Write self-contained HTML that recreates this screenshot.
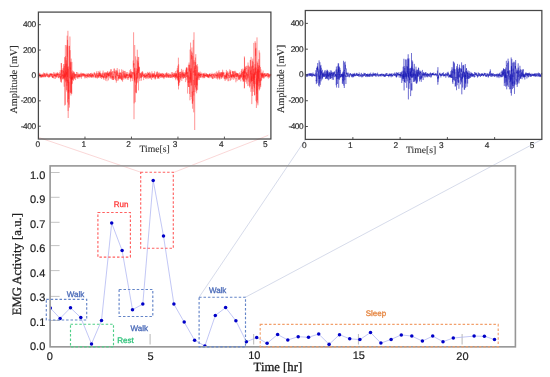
<!DOCTYPE html>
<html><head><meta charset="utf-8"><style>
html,body{margin:0;padding:0;background:#fff;}
svg{display:block;text-rendering:geometricPrecision;}
.tk{font-family:"Liberation Sans",Arial,sans-serif;font-size:8.3px;fill:#262626;letter-spacing:-0.45px;stroke:#262626;stroke-width:0.16px;}
.tk2{font-family:"Liberation Sans",Arial,sans-serif;font-size:11px;fill:#1e1e1e;stroke:#1e1e1e;stroke-width:0.2px;}
.sr{font-family:"Liberation Serif","Times New Roman",serif;fill:#303030;stroke:#303030;stroke-width:0.12px;}
.sr2{font-family:"Liberation Serif","Times New Roman",serif;fill:#1c1c1c;stroke:#1c1c1c;stroke-width:0.3px;}
.lb{font-family:"Liberation Sans",Arial,sans-serif;font-size:8px;stroke-width:0.3px;}
</style></head><body>
<svg width="550" height="377" viewBox="0 0 550 377">
<rect width="550" height="377" fill="#fff"/>
<g stroke-width="0.6" fill="none">
<line x1="39.1" y1="137.6" x2="140.7" y2="172.2" stroke="#f7bcbc"/>
<line x1="268.3" y1="135.3" x2="173.3" y2="172.6" stroke="#f7bcbc"/>
<line x1="305.6" y1="139.4" x2="199.1" y2="297.2" stroke="#bac2dc"/>
<line x1="541.9" y1="139.4" x2="245.5" y2="297.2" stroke="#bac2dc"/>
</g>
<polyline points="38.5,74.6 38.5,76.8 38.6,76.3 38.6,76.1 38.7,76.3 38.7,76.8 38.8,77.6 38.8,76.8 38.9,75 38.9,72.6 39,74 39,75.7 39.1,76.2 39.1,76.7 39.2,76.9 39.2,76.1 39.2,75.3 39.3,75.1 39.3,74.7 39.4,75.2 39.4,74.8 39.5,73.8 39.5,74.5 39.6,75.7 39.6,75.5 39.7,74.2 39.7,73.5 39.8,74.9 39.8,75.3 39.8,75 39.9,76 39.9,75.7 40,74.5 40,74.5 40.1,74.9 40.1,75.9 40.2,77.4 40.2,76.2 40.3,76.7 40.3,77.3 40.4,75.7 40.4,75 40.5,76 40.5,76.6 40.5,75.9 40.6,74.9 40.6,73.8 40.7,74 40.7,74.4 40.8,74.4 40.8,75.5 40.9,76.1 40.9,75.1 41,74.8 41,75.7 41.1,76.3 41.1,76.6 41.1,77.4 41.2,75.7 41.2,75.5 41.3,76.8 41.3,76.5 41.4,76.2 41.4,76.1 41.5,77.5 41.5,76.8 41.6,74.8 41.6,75 41.7,77.2 41.7,76.7 41.8,75.6 41.8,75.3 41.8,74.7 41.9,75.8 41.9,76 42,75.7 42,74.6 42.1,75.1 42.1,76.4 42.2,76.5 42.2,74.3 42.3,73.7 42.3,73.8 42.4,73.9 42.4,74.9 42.5,76.2 42.5,76.8 42.5,76 42.6,75.2 42.6,76.5 42.7,76.7 42.7,76 42.8,75.2 42.8,75.4 42.9,77.1 42.9,77.6 43,75.7 43,74 43.1,74.1 43.1,75 43.1,75.5 43.2,75.4 43.2,75.2 43.3,75.1 43.3,75.8 43.4,75.7 43.4,75.3 43.5,74.8 43.5,73.8 43.6,72.5 43.6,72.5 43.7,74.2 43.7,76.8 43.8,76.8 43.8,76.1 43.8,76.2 43.9,76.9 43.9,74.9 44,74.6 44,76.6 44.1,77.2 44.1,76.6 44.2,75.4 44.2,74 44.3,73.3 44.3,74.4 44.4,74.6 44.4,74.2 44.4,73.3 44.5,73.4 44.5,74.2 44.6,76 44.6,76.3 44.7,75.7 44.7,74.1 44.8,74.4 44.8,75.6 44.9,75.8 44.9,75.5 45,76.3 45,76.3 45.1,74.4 45.1,73.1 45.1,74.9 45.2,76.5 45.2,77.4 45.3,77 45.3,75.2 45.4,74.5 45.4,74.9 45.5,75 45.5,75.2 45.6,75.9 45.6,77 45.7,76.5 45.7,76 45.8,76.4 45.8,76.6 45.8,76.6 45.9,75.8 45.9,75 46,75.5 46,75.4 46.1,74.4 46.1,73.8 46.2,74.4 46.2,76.3 46.3,75.7 46.3,75.5 46.4,75.1 46.4,74.1 46.4,73.6 46.5,73.8 46.5,74.1 46.6,73.9 46.6,75 46.7,75.3 46.7,74.9 46.8,74.6 46.8,73.1 46.9,72.6 46.9,72.9 47,74.6 47,75.6 47.1,75.2 47.1,74.9 47.1,75.5 47.2,75.3 47.2,74.6 47.3,74.1 47.3,74.9 47.4,75 47.4,76.1 47.5,77 47.5,77.1 47.6,76.8 47.6,75.4 47.7,74.3 47.7,74.5 47.7,74 47.8,73.5 47.8,74.4 47.9,75.3 47.9,76.3 48,76.9 48,76.2 48.1,76.6 48.1,75.5 48.2,74.8 48.2,74.4 48.3,75.4 48.3,76.1 48.4,75.7 48.4,75.9 48.4,75.8 48.5,75.6 48.5,75.7 48.6,76.1 48.6,76.5 48.7,77 48.7,77.8 48.8,77 48.8,76.2 48.9,74.4 48.9,74.6 49,76.7 49,76.2 49.1,76 49.1,76.3 49.1,75.7 49.2,76.5 49.2,77.5 49.3,76.6 49.3,75.8 49.4,75.9 49.4,76.3 49.5,75.1 49.5,75 49.6,76.5 49.6,76.6 49.7,76.1 49.7,75.3 49.7,73.9 49.8,75 49.8,76.6 49.9,76.6 49.9,74.9 50,73.3 50,74.5 50.1,75.1 50.1,74.8 50.2,74.2 50.2,73.4 50.3,74.6 50.3,74.8 50.4,74.7 50.4,75.2 50.4,75.5 50.5,74.3 50.5,74.8 50.6,75.9 50.6,76.7 50.7,76.3 50.7,74.8 50.8,73.8 50.8,73.6 50.9,73.5 50.9,74.1 51,74.6 51,74.3 51,74.5 51.1,74.8 51.1,74.1 51.2,73.7 51.2,74.7 51.3,75.2 51.3,74 51.4,73.3 51.4,74.8 51.5,75.6 51.5,75.2 51.6,75.1 51.6,76.5 51.7,75.4 51.7,74.5 51.7,75 51.8,74 51.8,74.5 51.9,75.7 51.9,76.2 52,77.1 52,75.9 52.1,74.2 52.1,74.7 52.2,73.9 52.2,74.2 52.3,74.5 52.3,76 52.4,78 52.4,77.1 52.4,76.2 52.5,77.2 52.5,77.3 52.6,76.2 52.6,76.9 52.7,77.8 52.7,76.6 52.8,75.1 52.8,75 52.9,73.9 52.9,73.4 53,75.2 53,77.2 53,77.4 53.1,75.7 53.1,74.4 53.2,74.5 53.2,74.9 53.3,75.5 53.3,75.6 53.4,76.1 53.4,76.7 53.5,77.8 53.5,78.1 53.6,77.4 53.6,77.4 53.7,76.7 53.7,75.2 53.7,73.8 53.8,72 53.8,73.3 53.9,75.1 53.9,74.7 54,75 54,75.5 54.1,75.1 54.1,77.3 54.2,78.8 54.2,76.4 54.3,75.2 54.3,74.5 54.3,76 54.4,76.3 54.4,74.9 54.5,75.7 54.5,74.9 54.6,73.7 54.6,74.6 54.7,75.3 54.7,75 54.8,74.8 54.8,75.6 54.9,74.7 54.9,73.3 55,72.7 55,75 55,76.2 55.1,75.3 55.1,75.4 55.2,75.2 55.2,74.6 55.3,74.4 55.3,75.8 55.4,77.3 55.4,78.9 55.5,77.1 55.5,74.7 55.6,75.9 55.6,77.2 55.7,77 55.7,75.4 55.7,75.6 55.8,76.4 55.8,75.1 55.9,74.4 55.9,74.6 56,74.8 56,73.4 56.1,74.1 56.1,75.6 56.2,76.2 56.2,75.6 56.3,74.6 56.3,74.7 56.3,73.8 56.4,73.3 56.4,72.9 56.5,73.8 56.5,76.1 56.6,77.6 56.6,75.7 56.7,74.3 56.7,74.5 56.8,74.9 56.8,76 56.9,76.7 56.9,76.1 57,74.2 57,74.9 57,76.7 57.1,77.5 57.1,75.6 57.2,73.5 57.2,74.3 57.3,75.1 57.3,73.1 57.4,72.1 57.4,72.7 57.5,73 57.5,73 57.6,73.5 57.6,74.4 57.6,75 57.7,73.6 57.7,73.1 57.8,73.7 57.8,76.5 57.9,75 57.9,74 58,74.9 58,74.5 58.1,73.8 58.1,74.5 58.2,75.8 58.2,75.2 58.3,73.3 58.3,72.9 58.3,74.4 58.4,75 58.4,74.5 58.5,74.6 58.5,77.1 58.6,78 58.6,77 58.7,77.4 58.7,76.9 58.8,75.5 58.8,75.4 58.9,76.3 58.9,76.1 59,77.3 59,76.9 59,78.3 59.1,78 59.1,75.8 59.2,76.3 59.2,77.1 59.3,76.4 59.3,75.1 59.4,75.2 59.4,74.8 59.5,74.4 59.5,76.2 59.6,76.9 59.6,75.7 59.6,73.3 59.7,72.2 59.7,72.7 59.8,74.6 59.8,75 59.9,74.5 59.9,74.8 60,73.9 60,74.2 60.1,76 60.1,76 60.2,74.3 60.2,70.7 60.3,70.2 60.3,73.6 60.3,77.1 60.4,79.4 60.4,77.1 60.5,76.4 60.5,77.1 60.6,76.4 60.6,78.6 60.7,77.7 60.7,77 60.8,77.6 60.8,73.2 60.9,73.1 60.9,80.8 60.9,82.1 61,76.1 61,77.1 61.1,81.5 61.1,79.7 61.2,77 61.2,74.5 61.3,63 61.3,67.4 61.4,82.7 61.4,63.2 61.5,66.4 61.5,66.1 61.6,66.4 61.6,72 61.6,77.2 61.7,73.9 61.7,71.4 61.8,69.7 61.8,72 61.9,72.9 61.9,71.6 62,70.1 62,73.2 62.1,75.4 62.1,75.4 62.2,76.1 62.2,75.5 62.3,74.8 62.3,72.4 62.3,70.3 62.4,74.1 62.4,75.8 62.5,75.3 62.5,75.4 62.6,79.2 62.6,79.3 62.7,76 62.7,73.9 62.8,75.7 62.8,78.6 62.9,78.4 62.9,72.5 62.9,68.3 63,70.9 63,73.1 63.1,75 63.1,79.4 63.2,79.3 63.2,77 63.3,75 63.3,77.6 63.4,78.7 63.4,68.3 63.5,64.1 63.5,71.2 63.6,72.5 63.6,71 63.6,73.5 63.7,77.9 63.7,70.2 63.8,70.2 63.8,67.7 63.9,72.3 63.9,77.8 64,75 64,72.4 64.1,80.4 64.1,83.4 64.2,86.7 64.2,86.2 64.2,69.2 64.3,65.9 64.3,68.7 64.4,69 64.4,78.8 64.5,72.1 64.5,57.2 64.6,69.9 64.6,105 64.7,105.5 64.7,96.7 64.8,73.4 64.8,76.5 64.9,76.9 64.9,74.5 64.9,80.4 65,73.2 65,64 65.1,64.9 65.1,71.2 65.2,77.4 65.2,74.1 65.3,70 65.3,50.1 65.4,45 65.4,81.3 65.5,104.8 65.5,89.6 65.6,68.4 65.6,56.1 65.6,61.6 65.7,81.9 65.7,82.2 65.8,70.5 65.8,76.1 65.9,68.5 65.9,68.1 66,62.5 66,58 66.1,57.6 66.1,66.1 66.2,80.9 66.2,76.7 66.2,71.7 66.3,64.6 66.3,60.3 66.4,76.1 66.4,89.5 66.5,90.1 66.5,80 66.6,72.2 66.6,74.7 66.7,63.6 66.7,67.6 66.8,83.5 66.8,91.6 66.9,45 66.9,75.6 66.9,85.8 67,60.5 67,46.4 67.1,56.8 67.1,51.6 67.2,35.7 67.2,50.8 67.3,78.5 67.3,81.2 67.4,80.2 67.4,91.6 67.5,102.4 67.5,83.3 67.5,39.9 67.6,77 67.6,71.7 67.7,67.2 67.7,78.5 67.8,82.9 67.8,65.4 67.9,56 67.9,30.8 68,57.8 68,66.6 68.1,71.5 68.1,111 68.2,71.6 68.2,69.1 68.2,118 68.3,79.7 68.3,93.1 68.4,86.7 68.4,66.4 68.5,67.4 68.5,75.6 68.6,78.9 68.6,81.1 68.7,97.5 68.7,99 68.8,90 68.8,91.7 68.9,89.8 68.9,81.8 68.9,104.6 69,68.9 69,49.1 69.1,45.9 69.1,53.5 69.2,71.8 69.2,90 69.3,100 69.3,101 69.4,107.6 69.4,89.8 69.5,60.4 69.5,45.9 69.5,58.2 69.6,77.4 69.6,77.7 69.7,78.3 69.7,69.6 69.8,66.2 69.8,49.8 69.9,36.5 69.9,36.6 70,39.2 70,60.7 70.1,68.8 70.1,51.5 70.2,50.2 70.2,72.2 70.2,84.7 70.3,93.2 70.3,80.9 70.4,67.5 70.4,75.6 70.5,89.6 70.5,92.6 70.6,74.4 70.6,61.7 70.7,63.5 70.7,74.8 70.8,79.1 70.8,62.5 70.9,68.2 70.9,73.8 70.9,79 71,95.5 71,86.8 71.1,75.8 71.1,65.7 71.2,58.6 71.2,72.9 71.3,92.4 71.3,85.8 71.4,75.6 71.4,79.6 71.5,93.6 71.5,93.6 71.5,76.5 71.6,71.6 71.6,80.3 71.7,84.3 71.7,78.4 71.8,93.8 71.8,80.8 71.9,61.9 71.9,69.1 72,77.2 72,79.2 72.1,73.7 72.1,79.6 72.2,77.2 72.2,77.1 72.2,79.5 72.3,77.1 72.3,83.7 72.4,83.1 72.4,78.7 72.5,76.6 72.5,71.8 72.6,70.5 72.6,76 72.7,79.7 72.7,79.6 72.8,76.6 72.8,73.1 72.8,74.1 72.9,74.4 72.9,76.5 73,77.4 73,75.5 73.1,77.6 73.1,74.8 73.2,72.4 73.2,77 73.3,79.2 73.3,81.1 73.4,80.9 73.4,80.9 73.5,78.9 73.5,77.1 73.5,73.9 73.6,71.2 73.6,72.4 73.7,73.6 73.7,75.2 73.8,77 73.8,79.2 73.9,79.8 73.9,75.5 74,71.9 74,73.4 74.1,74.5 74.1,73.2 74.2,75.5 74.2,77.9 74.2,79 74.3,78.2 74.3,75.2 74.4,72.5 74.4,75.1 74.5,77.7 74.5,77.6 74.6,77.6 74.6,78.3 74.7,76 74.7,74.1 74.8,74.1 74.8,75.3 74.8,78.2 74.9,78 74.9,74.1 75,74 75,76.8 75.1,76.1 75.1,75 75.2,74.5 75.2,75.1 75.3,75.9 75.3,75.4 75.4,75.3 75.4,76.9 75.5,80.1 75.5,80.1 75.5,79.9 75.6,78.4 75.6,75.7 75.7,74.2 75.7,74.8 75.8,75.6 75.8,74.8 75.9,74.2 75.9,75.1 76,74.1 76,73.6 76.1,73.7 76.1,73.6 76.1,75 76.2,75.1 76.2,76.7 76.3,77.7 76.3,77.2 76.4,76.1 76.4,76.6 76.5,76.6 76.5,76.2 76.6,73.5 76.6,72.1 76.7,72.9 76.7,72.5 76.8,72.3 76.8,72.1 76.8,74.8 76.9,76.4 76.9,74.6 77,75.5 77,77.3 77.1,77.9 77.1,78.2 77.2,77.2 77.2,76.1 77.3,73.9 77.3,74.8 77.4,78 77.4,78.7 77.5,78.3 77.5,78.4 77.5,76.8 77.6,76.1 77.6,76.7 77.7,76.2 77.7,74.3 77.8,72.6 77.8,72.7 77.9,74 77.9,74.7 78,75.7 78,75.8 78.1,76.1 78.1,75.8 78.1,77.1 78.2,77.2 78.2,75.8 78.3,75.7 78.3,77.1 78.4,76.8 78.4,75.6 78.5,75.6 78.5,76.3 78.6,75.8 78.6,75 78.7,73.7 78.7,74.9 78.8,77.8 78.8,78.6 78.8,75.9 78.9,74 78.9,74.2 79,74.6 79,76.2 79.1,76.8 79.1,75.2 79.2,74.7 79.2,75.3 79.3,76.6 79.3,76.2 79.4,75.7 79.4,75.2 79.4,76.1 79.5,76.6 79.5,75.8 79.6,74.4 79.6,75.2 79.7,76.8 79.7,77.4 79.8,76.5 79.8,75.4 79.9,77.1 79.9,76.8 80,74.7 80,73.9 80.1,74.6 80.1,74.2 80.1,73.8 80.2,73.9 80.2,74.1 80.3,73.4 80.3,73.7 80.4,74.1 80.4,75.4 80.5,75.6 80.5,77 80.6,77.3 80.6,76 80.7,75.9 80.7,75.7 80.8,75.6 80.8,74.2 80.8,75.2 80.9,76.4 80.9,75.3 81,74.8 81,75.4 81.1,74.1 81.1,72.6 81.2,73.5 81.2,75.1 81.3,75.7 81.3,75.9 81.4,78.1 81.4,78.7 81.4,77.9 81.5,76.1 81.5,74.1 81.6,74.9 81.6,76.7 81.7,76.8 81.7,75.8 81.8,76.3 81.8,76.3 81.9,75.7 81.9,75.3 82,75.1 82,74.5 82.1,73.2 82.1,73.6 82.1,74.9 82.2,73.3 82.2,73.5 82.3,74.2 82.3,75.3 82.4,75.2 82.4,74.9 82.5,74.7 82.5,74.1 82.6,74.7 82.6,76 82.7,75.5 82.7,74.4 82.7,74.5 82.8,75.4 82.8,75.8 82.9,76.2 82.9,77 83,76.4 83,74.6 83.1,75 83.1,75.6 83.2,75.3 83.2,73.6 83.3,73.1 83.3,74.5 83.4,75.1 83.4,75 83.4,73.5 83.5,74 83.5,75.1 83.6,74.2 83.6,74.2 83.7,74.6 83.7,75.1 83.8,76 83.8,75.8 83.9,75 83.9,75.4 84,75.3 84,73.9 84.1,74.9 84.1,76.1 84.1,75.9 84.2,74.5 84.2,73.9 84.3,74.3 84.3,75 84.4,76.6 84.4,76.5 84.5,76 84.5,75.4 84.6,75.6 84.6,75.7 84.7,73.5 84.7,74.7 84.7,74.8 84.8,74 84.8,74.1 84.9,76 84.9,78.5 85,77.4 85,75.7 85.1,76.5 85.1,77.7 85.2,77.6 85.2,75.1 85.3,74.8 85.3,76 85.4,76 85.4,76.1 85.4,76.6 85.5,76 85.5,75 85.6,74.2 85.6,73.9 85.7,75 85.7,75.6 85.8,75.5 85.8,76.4 85.9,76.4 85.9,75 86,75.2 86,75.2 86,75.2 86.1,75.9 86.1,75.1 86.2,74.8 86.2,75.1 86.3,75.5 86.3,77 86.4,78 86.4,77.1 86.5,76.1 86.5,74.9 86.6,75 86.6,75.7 86.7,74.9 86.7,73.6 86.7,73.5 86.8,74.3 86.8,74.9 86.9,75.5 86.9,75.4 87,75 87,75.2 87.1,75.7 87.1,77.2 87.2,78.3 87.2,78 87.3,76 87.3,73.9 87.4,74.2 87.4,76.5 87.4,77 87.5,75.2 87.5,75.2 87.6,76 87.6,74.8 87.7,74.2 87.7,73.8 87.8,74.1 87.8,74.2 87.9,75.1 87.9,76.3 88,76.3 88,75.9 88,75.4 88.1,76.7 88.1,77 88.2,74.9 88.2,73.3 88.3,73 88.3,74.3 88.4,76.7 88.4,77 88.5,76.5 88.5,76.7 88.6,77.6 88.6,76.3 88.7,75.7 88.7,76.1 88.7,75.2 88.8,74.2 88.8,74.3 88.9,73.8 88.9,73.7 89,74.3 89,74.9 89.1,75.1 89.1,74.6 89.2,75.6 89.2,76 89.3,75.4 89.3,75.6 89.3,74.8 89.4,74.1 89.4,74.7 89.5,74.8 89.5,74.2 89.6,75 89.6,77.1 89.7,76.8 89.7,74.7 89.8,75.5 89.8,77.9 89.9,77.8 89.9,76.6 90,76.2 90,75.3 90,75 90.1,75.4 90.1,76 90.2,74.4 90.2,73.5 90.3,74.6 90.3,73.8 90.4,73.5 90.4,74.3 90.5,75.7 90.5,77 90.6,76.5 90.6,74.6 90.7,73.4 90.7,73.1 90.7,73.4 90.8,74.2 90.8,75.9 90.9,76.7 90.9,75.5 91,74.9 91,75.8 91.1,77.3 91.1,77.4 91.2,77.3 91.2,76.5 91.3,76.6 91.3,75.9 91.3,75.1 91.4,74.5 91.4,74.5 91.5,76.9 91.5,77.7 91.6,74.7 91.6,72.8 91.7,72.9 91.7,74 91.8,74.6 91.8,75.6 91.9,77 91.9,76.4 92,75.4 92,74.9 92,74.4 92.1,76.3 92.1,76 92.2,74.8 92.2,76.2 92.3,77.6 92.3,77.8 92.4,76.1 92.4,73.9 92.5,74 92.5,74.7 92.6,75.2 92.6,74.7 92.6,75.3 92.7,76.5 92.7,76.2 92.8,74.8 92.8,74 92.9,74.5 92.9,73.8 93,73.3 93,75.8 93.1,76.6 93.1,74.7 93.2,74.5 93.2,75.1 93.3,75.2 93.3,75.4 93.3,75.1 93.4,75.1 93.4,75.3 93.5,76.7 93.5,76.9 93.6,75.9 93.6,75.5 93.7,74.8 93.7,75.3 93.8,75.9 93.8,75.8 93.9,76.8 93.9,78.1 94,78 94,77.3 94,76.3 94.1,75 94.1,73.8 94.2,73.1 94.2,72.2 94.3,72.8 94.3,73.8 94.4,72.7 94.4,73.2 94.5,74.9 94.5,74.5 94.6,73.7 94.6,73.8 94.6,73.6 94.7,73.9 94.7,74.3 94.8,75.1 94.8,75.2 94.9,75.3 94.9,75.6 95,76.8 95,75.1 95.1,73.3 95.1,73.8 95.2,74.7 95.2,75.2 95.3,76.6 95.3,77.1 95.3,76.4 95.4,75.3 95.4,74.7 95.5,75.4 95.5,75.5 95.6,77.3 95.6,77.2 95.7,75.3 95.7,74.4 95.8,76.7 95.8,78.2 95.9,76.2 95.9,76 95.9,77.4 96,77.8 96,76.9 96.1,75.4 96.1,75.2 96.2,75.5 96.2,73.2 96.3,74.2 96.3,75.3 96.4,74.4 96.4,73.3 96.5,71.4 96.5,72.6 96.6,75.3 96.6,76.4 96.6,76.5 96.7,75.7 96.7,75 96.8,74.8 96.8,73.5 96.9,74.5 96.9,75 97,75.4 97,78.1 97.1,77.5 97.1,75.2 97.2,75 97.2,75.1 97.3,75.2 97.3,76.1 97.3,77 97.4,78.6 97.4,78.2 97.5,75.5 97.5,76.4 97.6,75.9 97.6,73.1 97.7,73.3 97.7,75.7 97.8,76.5 97.8,76.5 97.9,76.5 97.9,75.1 97.9,74.7 98,74.4 98,73.5 98.1,72.3 98.1,71.1 98.2,72.8 98.2,76.2 98.3,75.9 98.3,77.5 98.4,77.8 98.4,75.8 98.5,76.2 98.5,75.6 98.6,74.5 98.6,76.2 98.6,76.8 98.7,74.6 98.7,73 98.8,74.8 98.8,77.8 98.9,77.4 98.9,74.7 99,71.7 99,71.8 99.1,72.3 99.1,72.9 99.2,74.5 99.2,74.4 99.2,74.9 99.3,76.5 99.3,75.7 99.4,75.2 99.4,76 99.5,74.1 99.5,72.8 99.6,73.6 99.6,75.6 99.7,74.5 99.7,72.3 99.8,73.5 99.8,75.6 99.9,74.4 99.9,72.9 99.9,73.9 100,72.7 100,70.7 100.1,73.5 100.1,76.2 100.2,77.5 100.2,76.1 100.3,73.6 100.3,75.5 100.4,78.1 100.4,77.8 100.5,75.6 100.5,74.6 100.6,75.5 100.6,75 100.6,75.4 100.7,74.6 100.7,73.7 100.8,74.2 100.8,75.7 100.9,75.7 100.9,75.7 101,77.1 101,75.6 101.1,73.6 101.1,73.1 101.2,74.7 101.2,75.6 101.2,75.9 101.3,76.8 101.3,76 101.4,74.8 101.4,75.5 101.5,77.5 101.5,78.6 101.6,79 101.6,76.2 101.7,75.8 101.7,76.3 101.8,77.4 101.8,76.1 101.9,74.1 101.9,74.4 101.9,76.4 102,75.2 102,75.8 102.1,76.6 102.1,75.6 102.2,76 102.2,76.9 102.3,76.9 102.3,75.7 102.4,75.5 102.4,76.7 102.5,77.9 102.5,76.9 102.5,74.2 102.6,72.7 102.6,73.2 102.7,72.9 102.7,75.2 102.8,77 102.8,76.1 102.9,76.5 102.9,74.6 103,73.5 103,75 103.1,73.7 103.1,70.6 103.2,72.6 103.2,73.9 103.2,73.8 103.3,75 103.3,75.6 103.4,76.9 103.4,78.7 103.5,75.9 103.5,77.5 103.6,78 103.6,75.6 103.7,76.2 103.7,77.8 103.8,77.3 103.8,78.4 103.9,79.3 103.9,79.9 103.9,78.2 104,75.5 104,74.6 104.1,73.9 104.1,73.5 104.2,75.4 104.2,76.9 104.3,75.2 104.3,72.5 104.4,73.7 104.4,74.8 104.5,75.2 104.5,74.7 104.5,74.5 104.6,75.3 104.6,76.6 104.7,78 104.7,77.5 104.8,74.8 104.8,72.9 104.9,73 104.9,75.2 105,76.4 105,74.6 105.1,75.1 105.1,77.1 105.2,74.5 105.2,72.3 105.2,72.7 105.3,77.3 105.3,78.5 105.4,77 105.4,79.3 105.5,79.7 105.5,79.7 105.6,80.5 105.6,80.6 105.7,76.9 105.7,73.5 105.8,73.3 105.8,74.3 105.8,74.4 105.9,72.3 105.9,72.3 106,74.1 106,77.4 106.1,77.2 106.1,77.3 106.2,75.7 106.2,75.9 106.3,77.3 106.3,75 106.4,72.5 106.4,72.9 106.5,74.6 106.5,77.4 106.5,78.7 106.6,78.2 106.6,75.1 106.7,72.6 106.7,73.5 106.8,76 106.8,77.3 106.9,76 106.9,77.6 107,81.2 107,81.2 107.1,78.7 107.1,76.2 107.2,73 107.2,74.9 107.2,77.7 107.3,76 107.3,73.5 107.4,75.2 107.4,74.1 107.5,72.4 107.5,71.4 107.6,73.2 107.6,75.1 107.7,74.5 107.7,73.9 107.8,73.2 107.8,72.8 107.8,71.4 107.9,73.4 107.9,75 108,76.2 108,75.7 108.1,75.1 108.1,74.2 108.2,74 108.2,76.4 108.3,76.6 108.3,74.3 108.4,75.5 108.4,75.8 108.5,73.2 108.5,75.3 108.5,80.3 108.6,77.8 108.6,73.6 108.7,73.3 108.7,74.2 108.8,73.3 108.8,75.8 108.9,76.3 108.9,75.3 109,74.4 109,72.7 109.1,72.4 109.1,73.1 109.1,73.1 109.2,75.5 109.2,74.7 109.3,71.8 109.3,72.6 109.4,73.3 109.4,75.5 109.5,76.3 109.5,75.7 109.6,75.4 109.6,75.8 109.7,74.9 109.7,72.8 109.8,72 109.8,73.2 109.8,73 109.9,74 109.9,78 110,77.9 110,72.3 110.1,71.1 110.1,73.5 110.2,75.4 110.2,78.2 110.3,78.9 110.3,77.4 110.4,77.4 110.4,75.4 110.5,75.5 110.5,73.2 110.5,69.3 110.6,69.6 110.6,73 110.7,74.2 110.7,77 110.8,77 110.8,73.9 110.9,72.6 110.9,74.6 111,74.6 111,75.9 111.1,77.8 111.1,75.4 111.1,72.5 111.2,73.5 111.2,73.5 111.3,73.7 111.3,74.7 111.4,71.8 111.4,69.4 111.5,69.2 111.5,71.4 111.6,75.5 111.6,77.8 111.7,78.6 111.7,78.8 111.8,76.9 111.8,72.7 111.8,71.9 111.9,74.5 111.9,75.4 112,77.7 112,78.3 112.1,79.5 112.1,79.8 112.2,76.9 112.2,75.8 112.3,76.8 112.3,77.9 112.4,78.2 112.4,77.2 112.4,76.8 112.5,76.6 112.5,77.5 112.6,75.4 112.6,72.9 112.7,71.2 112.7,71.7 112.8,74.7 112.8,78.4 112.9,79.9 112.9,75.7 113,71.1 113,73 113.1,79.9 113.1,79.9 113.1,78.2 113.2,77.9 113.2,76.1 113.3,75.8 113.3,76.7 113.4,77.7 113.4,80 113.5,80 113.5,77.8 113.6,76.1 113.6,78.3 113.7,76.7 113.7,74.1 113.8,74 113.8,74.2 113.8,75.5 113.9,73.9 113.9,70.7 114,68.7 114,70 114.1,71.3 114.1,73.6 114.2,73.4 114.2,71.1 114.3,71 114.3,70.6 114.4,69.9 114.4,68.5 114.4,68.5 114.5,72.7 114.5,71.4 114.6,72.1 114.6,73.7 114.7,74.5 114.7,75 114.8,78 114.8,78.8 114.9,77.5 114.9,74.5 115,72.2 115,72.4 115.1,74.4 115.1,78 115.1,79.5 115.2,76.1 115.2,74.2 115.3,72.9 115.3,71.9 115.4,74.6 115.4,78.2 115.5,80.3 115.5,76.6 115.6,75.8 115.6,76.7 115.7,76.4 115.7,77.8 115.7,75.5 115.8,70.6 115.8,70.5 115.9,71.3 115.9,71.8 116,72.5 116,71.7 116.1,69.8 116.1,72.3 116.2,73.7 116.2,75.7 116.3,79.1 116.3,82.7 116.4,80.6 116.4,72.5 116.4,70.9 116.5,74.6 116.5,75.2 116.6,74.9 116.6,75.2 116.7,73.4 116.7,77.1 116.8,80.8 116.8,81.1 116.9,74.6 116.9,72.3 117,72.4 117,75.6 117.1,75.4 117.1,74.5 117.1,72.3 117.2,68.1 117.2,68 117.3,69.8 117.3,73.5 117.4,72 117.4,70.6 117.5,71.9 117.5,72.9 117.6,74.5 117.6,76.5 117.7,74.1 117.7,72.5 117.7,75.8 117.8,75.4 117.8,74.9 117.9,78.1 117.9,79 118,80.5 118,80.3 118.1,80.6 118.1,79.7 118.2,78 118.2,77.2 118.3,78.7 118.3,79.7 118.4,74.7 118.4,75.9 118.4,78.8 118.5,77.9 118.5,76.6 118.6,78.1 118.6,77.9 118.7,76.6 118.7,75.5 118.8,76.2 118.8,74.8 118.9,74.2 118.9,74 119,72.7 119,75.3 119,77.8 119.1,75.9 119.1,75 119.2,74.9 119.2,72.4 119.3,69.3 119.3,71.9 119.4,74 119.4,74.1 119.5,72.7 119.5,75.2 119.6,78.5 119.6,78.6 119.7,75 119.7,75 119.7,79.1 119.8,78 119.8,73.9 119.9,73.9 119.9,77.7 120,76.9 120,74.7 120.1,76.4 120.1,77.7 120.2,78.6 120.2,79.1 120.3,76.6 120.3,76.3 120.4,78.2 120.4,75.5 120.4,72.6 120.5,72.8 120.5,73.4 120.6,74.3 120.6,73.4 120.7,73.9 120.7,72.4 120.8,75.4 120.8,78.4 120.9,78.8 120.9,78 121,77.9 121,77.9 121,76.2 121.1,73.5 121.1,73 121.2,74.1 121.2,74.1 121.3,77.6 121.3,79.8 121.4,78.7 121.4,77.1 121.5,79.7 121.5,78.6 121.6,72.3 121.6,69.3 121.7,72.2 121.7,77.1 121.7,76 121.8,73.8 121.8,76.1 121.9,79.3 121.9,79.6 122,80.7 122,77.7 122.1,71.7 122.1,73.6 122.2,79.2 122.2,79.7 122.3,76.7 122.3,76 122.3,75.5 122.4,76.5 122.4,76.4 122.5,76.4 122.5,79.4 122.6,81.7 122.6,80.6 122.7,78.5 122.7,76.8 122.8,75.9 122.8,75.3 122.9,75.2 122.9,75.4 123,71.6 123,69.9 123,72.5 123.1,73.4 123.1,72.2 123.2,72.9 123.2,74.7 123.3,76.4 123.3,78.1 123.4,77.8 123.4,74.3 123.5,73.6 123.5,76.5 123.6,76.3 123.6,75.7 123.7,76.9 123.7,77.8 123.7,78.7 123.8,79.7 123.8,77.5 123.9,74.4 123.9,71 124,72.3 124,75 124.1,74.1 124.1,71 124.2,71 124.2,73.9 124.3,76.7 124.3,78.5 124.3,77.5 124.4,76.7 124.4,75.7 124.5,74.6 124.5,77.6 124.6,76.8 124.6,74.6 124.7,73.2 124.7,73.3 124.8,77.2 124.8,77.7 124.9,76 124.9,75.6 125,76.6 125,76.4 125,75.2 125.1,76.9 125.1,76 125.2,72.2 125.2,70.9 125.3,73.3 125.3,76.9 125.4,78.3 125.4,78.6 125.5,78.4 125.5,76.2 125.6,73.7 125.6,74.8 125.6,77.2 125.7,78.1 125.7,77.3 125.8,76 125.8,77.9 125.9,77.6 125.9,78.7 126,79.3 126,78.1 126.1,75 126.1,73.1 126.2,72 126.2,75.9 126.3,77.4 126.3,75.1 126.3,74.7 126.4,76.9 126.4,77.8 126.5,74.3 126.5,73.5 126.6,74.8 126.6,75.7 126.7,75.4 126.7,76 126.8,75.9 126.8,75 126.9,74.1 126.9,75.6 127,75.6 127,74 127,74.5 127.1,75.5 127.1,75.3 127.2,74.7 127.2,75.5 127.3,73.8 127.3,72 127.4,74.2 127.4,77.2 127.5,77.9 127.5,77.2 127.6,78.6 127.6,79.4 127.6,78.6 127.7,77.4 127.7,76 127.8,76.2 127.8,74.7 127.9,75.6 127.9,75.4 128,74.4 128,74.4 128.1,75.2 128.1,78.2 128.2,79.9 128.2,78.8 128.3,78.8 128.3,77.1 128.3,74.9 128.4,75.8 128.4,77.4 128.5,78 128.5,77.2 128.6,77.3 128.6,78.1 128.7,77.1 128.7,77.1 128.8,76.3 128.8,75.6 128.9,73.9 128.9,73.7 129,75.1 129,75.4 129,74.1 129.1,72.5 129.1,72.9 129.2,74.3 129.2,74 129.3,74.1 129.3,76.7 129.4,76.4 129.4,75.8 129.5,74.5 129.5,75.6 129.6,76.8 129.6,77.3 129.6,75.7 129.7,73.2 129.7,73.2 129.8,76.4 129.8,74.1 129.9,70.2 129.9,70.8 130,74.3 130,76.6 130.1,78.6 130.1,74.7 130.2,75.1 130.2,77.1 130.3,75.1 130.3,76.9 130.3,77.9 130.4,75 130.4,74.5 130.5,76.4 130.5,78.2 130.6,81.6 130.6,80.5 130.7,72.8 130.7,69.1 130.8,71.2 130.8,73.9 130.9,76.6 130.9,77.9 130.9,76.3 131,71.4 131,74 131.1,74.8 131.1,76.9 131.2,77.3 131.2,71.6 131.3,75.1 131.3,78.3 131.4,77.6 131.4,78.3 131.5,77.8 131.5,77.5 131.6,75.2 131.6,76.3 131.6,77.6 131.7,74.3 131.7,75.2 131.8,77.2 131.8,75.1 131.9,72.5 131.9,71.9 132,74.6 132,74.4 132.1,74.4 132.1,74.4 132.2,75.4 132.2,75.4 132.3,75.8 132.3,79.4 132.3,81.1 132.4,78.1 132.4,76.5 132.5,75 132.5,73.9 132.6,73.8 132.6,72.5 132.7,73.8 132.7,73.8 132.8,72 132.8,72.4 132.9,74.5 132.9,76.2 132.9,78.7 133,78.5 133,74.7 133.1,72.5 133.1,73.5 133.2,67.9 133.2,61.1 133.3,60.5 133.3,67.1 133.4,67.5 133.4,67.1 133.5,66.6 133.5,66.4 133.6,32.3 133.6,67.7 133.6,71.8 133.7,74.8 133.7,72 133.8,66.8 133.8,63.3 133.9,65.2 133.9,63.4 134,64.9 134,119.2 134.1,77.5 134.1,71.9 134.2,75.8 134.2,78.7 134.2,103.4 134.3,74.9 134.3,76 134.4,67.7 134.4,78.6 134.5,81.3 134.5,80 134.6,74.4 134.6,72.9 134.7,79.7 134.7,45 134.8,79.9 134.8,79.1 134.9,68.1 134.9,70.4 134.9,78.7 135,82.6 135,79.8 135.1,76.4 135.1,74.3 135.2,76.5 135.2,100.2 135.3,102.2 135.3,93.5 135.4,92.8 135.4,85 135.5,78.8 135.5,70.2 135.6,63.7 135.6,57.6 135.6,56.4 135.7,57.4 135.7,60.5 135.8,61.3 135.8,68.8 135.9,82.7 135.9,92.1 136,89.1 136,85 136.1,93.2 136.1,85 136.2,78.4 136.2,70.8 136.2,73.3 136.3,80.8 136.3,86.2 136.4,93.1 136.4,80.1 136.5,77.4 136.5,85.1 136.6,74.8 136.6,72.9 136.7,78.6 136.7,83.5 136.8,72.7 136.8,68.3 136.9,75.8 136.9,79.4 136.9,67 137,59.7 137,62.6 137.1,66.4 137.1,74.7 137.2,73.6 137.2,69.4 137.3,61 137.3,49.7 137.4,62.1 137.4,73.6 137.5,73.4 137.5,78.5 137.5,72.3 137.6,69 137.6,76.6 137.7,81.5 137.7,82.5 137.8,78.3 137.8,72.8 137.9,61.1 137.9,64.7 138,77.1 138,77.7 138.1,59.6 138.1,56.9 138.2,65.2 138.2,70.3 138.2,73 138.3,70.7 138.3,62.7 138.4,71.7 138.4,84.9 138.5,89.7 138.5,90.4 138.6,74.9 138.6,63.1 138.7,57.1 138.7,59.3 138.8,71.4 138.8,70.6 138.9,66.3 138.9,68.8 138.9,73 139,70 139,67.5 139.1,67 139.1,72.4 139.2,76.5 139.2,78.2 139.3,78.8 139.3,79.1 139.4,76.5 139.4,72.6 139.5,69.9 139.5,67.4 139.5,68.1 139.6,72.6 139.6,76.5 139.7,73.2 139.7,72.8 139.8,78.8 139.8,81.1 139.9,80.6 139.9,79.6 140,78.2 140,77.6 140.1,76.6 140.1,77.9 140.2,77.3 140.2,77.4 140.2,76.8 140.3,73.9 140.3,73.7 140.4,74.2 140.4,74.7 140.5,73.5 140.5,73.7 140.6,76.4 140.6,77.9 140.7,74.6 140.7,73.2 140.8,74.1 140.8,74.5 140.8,74.7 140.9,75.6 140.9,76.9 141,75.9 141,75.4 141.1,76.7 141.1,75.9 141.2,72.5 141.2,73.1 141.3,75.7 141.3,78.4 141.4,80.7 141.4,79.8 141.5,76.1 141.5,75 141.5,78.1 141.6,76.4 141.6,72.3 141.7,72.4 141.7,73.1 141.8,73.1 141.8,74.6 141.9,75 141.9,73.7 142,74.1 142,75.3 142.1,74.9 142.1,77.3 142.2,75.3 142.2,71.4 142.2,73.5 142.3,75.1 142.3,76.7 142.4,77 142.4,76.9 142.5,75.8 142.5,73.3 142.6,71.4 142.6,71.6 142.7,72.4 142.7,73.8 142.8,72.8 142.8,72.5 142.8,73 142.9,75 142.9,74.8 143,72.9 143,73.4 143.1,75.1 143.1,76.2 143.2,75.5 143.2,74.2 143.3,74.3 143.3,75.8 143.4,75.9 143.4,75.6 143.5,76.1 143.5,74.7 143.5,75 143.6,77.2 143.6,80.1 143.7,80.1 143.7,78.6 143.8,77.8 143.8,77.2 143.9,75.6 143.9,75.4 144,77 144,77.7 144.1,74.9 144.1,74.7 144.1,75.1 144.2,76 144.2,75.4 144.3,74.3 144.3,74 144.4,73.9 144.4,73.9 144.5,73.9 144.5,77.2 144.6,76.7 144.6,74.7 144.7,75.6 144.7,77.3 144.8,77.6 144.8,76.2 144.8,77.1 144.9,75.7 144.9,74.3 145,73.2 145,73.4 145.1,76 145.1,77.3 145.2,77.5 145.2,77.6 145.3,75.7 145.3,75.6 145.4,76.2 145.4,77 145.5,76.6 145.5,76.6 145.5,76.7 145.6,76.5 145.6,75.4 145.7,77.4 145.7,79 145.8,76.5 145.8,76.1 145.9,75.3 145.9,72.8 146,75 146,77.6 146.1,77 146.1,75.6 146.1,74.8 146.2,73.4 146.2,73.8 146.3,75.8 146.3,75.6 146.4,75 146.4,76 146.5,75.8 146.5,74.5 146.6,75.3 146.6,77.5 146.7,77.4 146.7,76.7 146.8,76.4 146.8,75.9 146.8,74.9 146.9,76.8 146.9,77.6 147,77.5 147,79.2 147.1,78.1 147.1,76.4 147.2,77.5 147.2,76.8 147.3,74.4 147.3,74.3 147.4,75 147.4,75.6 147.4,76.1 147.5,75.5 147.5,74.1 147.6,71.9 147.6,73.5 147.7,75.5 147.7,75.8 147.8,76.4 147.8,77.8 147.9,76.6 147.9,74.9 148,76.8 148,76.4 148.1,73.7 148.1,73.4 148.1,75 148.2,74.2 148.2,74.1 148.3,73.1 148.3,73.9 148.4,75 148.4,74.3 148.5,74.6 148.5,74.8 148.6,73.1 148.6,74 148.7,74.4 148.7,76.7 148.8,79 148.8,78.2 148.8,75.9 148.9,73.6 148.9,72.6 149,74.5 149,76.5 149.1,77.4 149.1,76.3 149.2,76.5 149.2,77.5 149.3,74.2 149.3,71.8 149.4,72.1 149.4,75.2 149.4,75.9 149.5,76.4 149.5,77.9 149.6,78.1 149.6,77.1 149.7,75.1 149.7,73.8 149.8,73.7 149.8,76 149.9,77.3 149.9,75.5 150,74.3 150,73.5 150.1,73.6 150.1,75 150.1,75.3 150.2,76.3 150.2,75.5 150.3,74.6 150.3,75.2 150.4,76.2 150.4,77.8 150.5,77.3 150.5,76.6 150.6,77.6 150.6,75.9 150.7,72.6 150.7,74.2 150.7,77 150.8,76.8 150.8,76.2 150.9,78.9 150.9,77.5 151,75.5 151,75.9 151.1,76 151.1,76.9 151.2,76.4 151.2,75.8 151.3,75.6 151.3,75.5 151.4,74.9 151.4,74.4 151.4,75.8 151.5,77 151.5,76.9 151.6,77.6 151.6,79.6 151.7,80 151.7,79 151.8,76.9 151.8,76.8 151.9,74.9 151.9,71.3 152,72.5 152,75.5 152.1,76 152.1,74.7 152.1,75.2 152.2,74 152.2,73.3 152.3,73.8 152.3,75.4 152.4,76.1 152.4,78 152.5,76.5 152.5,74.2 152.6,75.3 152.6,77.5 152.7,75.7 152.7,74.9 152.7,76.1 152.8,77.2 152.8,77.1 152.9,76.3 152.9,74.5 153,73.8 153,73.5 153.1,74.9 153.1,77 153.2,75.1 153.2,73.4 153.3,75.9 153.3,76.6 153.4,77.5 153.4,77.5 153.4,75.5 153.5,73.9 153.5,73.7 153.6,74.1 153.6,75.1 153.7,77 153.7,75.4 153.8,75 153.8,75.9 153.9,76.5 153.9,76.4 154,75.3 154,77.3 154,78.5 154.1,77.3 154.1,76.8 154.2,75.4 154.2,73.8 154.3,74.8 154.3,74.2 154.4,73.4 154.4,76.1 154.5,75.2 154.5,72.8 154.6,71.3 154.6,71.8 154.7,74.8 154.7,75.3 154.7,76 154.8,77.1 154.8,78.2 154.9,78.3 154.9,75.9 155,75.3 155,76.4 155.1,75.8 155.1,77.1 155.2,79.4 155.2,79.6 155.3,75.6 155.3,74.4 155.4,76.1 155.4,77.4 155.4,77.7 155.5,76 155.5,75.3 155.6,75 155.6,76.2 155.7,78.8 155.7,78.9 155.8,77.5 155.8,77.9 155.9,76 155.9,75.2 156,76.6 156,75.5 156,75 156.1,75.3 156.1,76.3 156.2,75.7 156.2,73.9 156.3,72.2 156.3,73.1 156.4,75.2 156.4,77 156.5,76.5 156.5,76.5 156.6,75.9 156.6,74.6 156.7,73.6 156.7,74 156.7,74.8 156.8,74.7 156.8,74.2 156.9,75.9 156.9,75.1 157,73.7 157,74.3 157.1,73.7 157.1,72.4 157.2,71.4 157.2,73.7 157.3,77.1 157.3,76.4 157.3,74.7 157.4,73.8 157.4,73.2 157.5,71.9 157.5,73.6 157.6,77 157.6,78.5 157.7,78 157.7,74.7 157.8,75 157.8,76.9 157.9,78.3 157.9,77.2 158,75.8 158,76.4 158,76.9 158.1,75.7 158.1,73.9 158.2,76.4 158.2,78.5 158.3,77.8 158.3,76.9 158.4,76.5 158.4,77.1 158.5,77.8 158.5,76.8 158.6,76.4 158.6,76.3 158.7,73.1 158.7,73.6 158.7,77.5 158.8,76.8 158.8,73.9 158.9,72.4 158.9,73.8 159,78.1 159,78.9 159.1,77.2 159.1,76.3 159.2,76.8 159.2,75.7 159.3,74.7 159.3,75.4 159.3,77.1 159.4,76.4 159.4,76 159.5,75.6 159.5,74.5 159.6,74.6 159.6,74.3 159.7,74.6 159.7,72.8 159.8,73 159.8,75.6 159.9,75.6 159.9,75.8 160,76.4 160,75 160,75.1 160.1,76.4 160.1,75.6 160.2,74.7 160.2,75.7 160.3,75.8 160.3,74.5 160.4,75.8 160.4,75 160.5,73.6 160.5,75 160.6,77.8 160.6,77.3 160.6,76.2 160.7,75.6 160.7,74.6 160.8,74.4 160.8,74.8 160.9,74.4 160.9,73.4 161,74.3 161,76 161.1,74 161.1,74.7 161.2,75.7 161.2,77.6 161.3,77.8 161.3,76.9 161.3,74.3 161.4,73.8 161.4,75 161.5,75.5 161.5,75.7 161.6,76.9 161.6,77.2 161.7,76.4 161.7,75 161.8,75.7 161.8,76.8 161.9,75.4 161.9,73.9 162,73.7 162,75 162,74 162.1,72.9 162.1,74.9 162.2,75.8 162.2,75.4 162.3,75.9 162.3,76.1 162.4,76.6 162.4,76.3 162.5,75.1 162.5,76.1 162.6,77.1 162.6,76.5 162.6,75.7 162.7,74.6 162.7,73.2 162.8,73.5 162.8,76.2 162.9,77.4 162.9,77.8 163,76 163,75.3 163.1,76.6 163.1,77.6 163.2,78.1 163.2,77.5 163.3,74.7 163.3,73.5 163.3,75 163.4,74.3 163.4,75.6 163.5,76.9 163.5,75.2 163.6,74.2 163.6,74.7 163.7,74.8 163.7,73.9 163.8,74.7 163.8,74.6 163.9,75.1 163.9,77.4 163.9,79.1 164,78.9 164,77 164.1,76.5 164.1,77.9 164.2,76.7 164.2,75.3 164.3,76.7 164.3,75.8 164.4,74.7 164.4,75.3 164.5,76.8 164.5,76.7 164.6,76.5 164.6,75.3 164.6,75.9 164.7,76 164.7,76.4 164.8,76.7 164.8,77.2 164.9,75.8 164.9,74.8 165,74.5 165,73.6 165.1,74 165.1,74.1 165.2,73.7 165.2,73.6 165.3,75.6 165.3,76.3 165.3,75.8 165.4,74.9 165.4,74.6 165.5,74.4 165.5,75.1 165.6,76.1 165.6,75.9 165.7,76.3 165.7,77.3 165.8,75.5 165.8,75.8 165.9,76.1 165.9,75.7 165.9,76.5 166,77.4 166,75.9 166.1,73.7 166.1,73.1 166.2,73.9 166.2,75.6 166.3,75.4 166.3,73.8 166.4,73.4 166.4,75.3 166.5,77.4 166.5,77.5 166.6,75.7 166.6,76.3 166.6,75.2 166.7,72.7 166.7,72.1 166.8,73.7 166.8,75.1 166.9,74.7 166.9,74 167,73.4 167,74.5 167.1,77 167.1,78 167.2,76.5 167.2,75.5 167.2,74.9 167.3,76.2 167.3,76.2 167.4,76.6 167.4,75.9 167.5,74 167.5,74.5 167.6,75.2 167.6,75.1 167.7,76.2 167.7,76.4 167.8,75.4 167.8,73.4 167.9,73.8 167.9,74 167.9,74 168,75.2 168,76.4 168.1,77.1 168.1,75.6 168.2,75.2 168.2,75.2 168.3,75.2 168.3,76.7 168.4,76.6 168.4,77.4 168.5,77.4 168.5,75.7 168.6,74.8 168.6,76.6 168.6,77.6 168.7,76.3 168.7,73.7 168.8,73.7 168.8,73.6 168.9,73 168.9,75.2 169,77.8 169,77.5 169.1,76.2 169.1,74.6 169.2,75.9 169.2,76 169.2,76.1 169.3,76.2 169.3,75.8 169.4,76 169.4,76.9 169.5,77.5 169.5,77.4 169.6,77.4 169.6,76.9 169.7,75.9 169.7,75.4 169.8,75.1 169.8,74.6 169.9,73.9 169.9,75.8 169.9,76.3 170,75.2 170,75.7 170.1,75.2 170.1,74.5 170.2,75.2 170.2,75.4 170.3,74.5 170.3,75 170.4,76.4 170.4,77.3 170.5,77.4 170.5,78 170.5,77.8 170.6,77 170.6,75.4 170.7,74.9 170.7,76.1 170.8,76.9 170.8,77.6 170.9,77.7 170.9,76.4 171,74.9 171,74.5 171.1,74.9 171.1,76.8 171.2,78 171.2,75.2 171.2,73.2 171.3,73.3 171.3,73.3 171.4,72.5 171.4,72.2 171.5,72.9 171.5,73.1 171.6,73.5 171.6,74.3 171.7,75.5 171.7,76.4 171.8,76.6 171.8,75.6 171.9,76.2 171.9,77.3 171.9,77.4 172,76.4 172,74.5 172.1,75 172.1,76 172.2,77.2 172.2,76.7 172.3,75 172.3,75 172.4,74.3 172.4,72.3 172.5,72.1 172.5,73.3 172.5,74.4 172.6,75 172.6,74.7 172.7,74 172.7,75.9 172.8,77.1 172.8,78.3 172.9,77.6 172.9,75.5 173,74.6 173,75 173.1,76 173.1,76.7 173.2,76.6 173.2,75.6 173.2,73.7 173.3,73.1 173.3,74.5 173.4,76.2 173.4,76.6 173.5,75.8 173.5,76.5 173.6,76.9 173.6,74.9 173.7,75 173.7,76.3 173.8,77 173.8,76.5 173.8,75.4 173.9,76 173.9,75.4 174,73.7 174,72.6 174.1,73.7 174.1,75.3 174.2,75.4 174.2,74.1 174.3,74 174.3,75 174.4,75.1 174.4,76.3 174.5,78 174.5,77.1 174.5,74.2 174.6,72.9 174.6,73.9 174.7,75.6 174.7,76.1 174.8,75.1 174.8,75.7 174.9,77 174.9,75.9 175,75.6 175,74.6 175.1,73.8 175.1,73.4 175.2,73.1 175.2,74.5 175.2,77 175.3,76.8 175.3,74.5 175.4,75.3 175.4,78.6 175.5,78.7 175.5,74 175.6,71.1 175.6,72.7 175.7,75.1 175.7,77.1 175.8,80.2 175.8,78.2 175.8,74.3 175.9,74.9 175.9,77.3 176,74.6 176,73.1 176.1,73.5 176.1,75.1 176.2,76.4 176.2,77 176.3,75.1 176.3,74.4 176.4,76.1 176.4,75.8 176.5,75.2 176.5,73.2 176.5,74.7 176.6,78.6 176.6,75.7 176.7,73.7 176.7,75.8 176.8,76.6 176.8,77.1 176.9,78 176.9,75.3 177,71.7 177,71.2 177.1,70.3 177.1,70.3 177.1,71.3 177.2,72.7 177.2,71 177.3,68.2 177.3,69.2 177.4,73.6 177.4,77.7 177.5,78.3 177.5,75.7 177.6,76.3 177.6,79.9 177.7,76.8 177.7,73.8 177.8,74.3 177.8,72.8 177.8,65.7 177.9,70 177.9,80.8 178,80 178,71.9 178.1,70.3 178.1,73.2 178.2,75.9 178.2,78.6 178.3,82.3 178.3,83.3 178.4,84.3 178.4,57.7 178.5,86 178.5,73.1 178.5,89.4 178.6,79.7 178.6,64.3 178.7,64.9 178.7,75 178.8,79.8 178.8,79.3 178.9,78.8 178.9,79.1 179,78.6 179,76.3 179.1,80.5 179.1,85.4 179.1,83.4 179.2,79.9 179.2,82.7 179.3,82.8 179.3,74.1 179.4,73.3 179.4,77 179.5,77 179.5,73.3 179.6,72 179.6,75.3 179.7,76.1 179.7,76.9 179.8,77.4 179.8,81 179.8,82.2 179.9,78 179.9,75.3 180,74.6 180,75 180.1,72.6 180.1,72.1 180.2,71.7 180.2,73 180.3,72.2 180.3,73.9 180.4,74.4 180.4,75.4 180.4,80.2 180.5,78.5 180.5,74.4 180.6,78.1 180.6,77.8 180.7,73.6 180.7,72.2 180.8,75.3 180.8,77.2 180.9,78.7 180.9,76.7 181,73.5 181,73.9 181.1,74.9 181.1,74.6 181.1,74.8 181.2,75.6 181.2,77.3 181.3,77.7 181.3,76.3 181.4,76.4 181.4,72.3 181.5,68.9 181.5,69 181.6,70.1 181.6,75.3 181.7,76.8 181.7,78.1 181.8,79.7 181.8,81 181.8,78.9 181.9,74.4 181.9,72.3 182,71.4 182,71.6 182.1,73.7 182.1,76.4 182.2,75.7 182.2,73.2 182.3,72.9 182.3,75.6 182.4,77 182.4,75.4 182.4,72.4 182.5,73.4 182.5,76.1 182.6,76.9 182.6,76.8 182.7,78.6 182.7,77.9 182.8,77.4 182.8,76.9 182.9,75 182.9,72 183,69.8 183,72.1 183.1,74.6 183.1,77.6 183.1,78 183.2,73.2 183.2,71.9 183.3,75.5 183.3,75.3 183.4,73.6 183.4,76.2 183.5,78.8 183.5,75.6 183.6,74.5 183.6,74.8 183.7,75.7 183.7,73.7 183.7,73.4 183.8,75.4 183.8,75.6 183.9,76.7 183.9,77.6 184,78 184,77.5 184.1,76.1 184.1,74.1 184.2,75.7 184.2,76.4 184.3,73.2 184.3,72.4 184.4,72.9 184.4,74 184.4,74.2 184.5,75.8 184.5,77.2 184.6,75.9 184.6,74.9 184.7,74.3 184.7,75.1 184.8,77.9 184.8,77.1 184.9,77.1 184.9,76.2 185,74.7 185,75.4 185.1,75.9 185.1,74.3 185.1,73.6 185.2,71.9 185.2,71.9 185.3,75.8 185.3,77.9 185.4,75.3 185.4,73 185.5,75 185.5,79.8 185.6,82.1 185.6,80.9 185.7,78.3 185.7,74.6 185.7,73.2 185.8,72.4 185.8,72 185.9,70.1 185.9,72 186,73.6 186,74.8 186.1,72.4 186.1,69.5 186.2,68.7 186.2,70.1 186.3,73.9 186.3,71.2 186.4,67.5 186.4,71.2 186.4,75.3 186.5,77 186.5,77 186.6,72.6 186.6,67.9 186.7,70.3 186.7,75.6 186.8,80.3 186.8,76.8 186.9,67.1 186.9,71.9 187,75.9 187,76.8 187.1,76 187.1,76.1 187.1,71.8 187.2,68.3 187.2,73.8 187.3,73.3 187.3,72.2 187.4,72.3 187.4,76.1 187.5,77.3 187.5,85.7 187.6,93.5 187.6,92.4 187.7,89.3 187.7,86.6 187.7,78 187.8,72.3 187.8,78.3 187.9,75.1 187.9,75.7 188,82.8 188,83 188.1,74 188.1,71.7 188.2,76.8 188.2,78.1 188.3,80.9 188.3,85.6 188.4,77.7 188.4,66.8 188.4,64.8 188.5,82.6 188.5,87 188.6,81.1 188.6,82.1 188.7,81.4 188.7,78.4 188.8,78.2 188.8,75.8 188.9,78.2 188.9,87 189,85.7 189,86.9 189,65.2 189.1,62.5 189.1,72.1 189.2,68.4 189.2,70.3 189.3,67.9 189.3,64.6 189.4,68.1 189.4,70.7 189.5,70 189.5,76.4 189.6,84.6 189.6,94 189.7,90.2 189.7,65 189.7,67.1 189.8,83.1 189.8,77.3 189.9,82.4 189.9,100.3 190,93.5 190,72.5 190.1,52.6 190.1,49.6 190.2,54.1 190.2,61.1 190.3,67.8 190.3,79 190.4,70.8 190.4,70.8 190.4,82.5 190.5,69.8 190.5,48.4 190.6,42.6 190.6,53.4 190.7,75.1 190.7,80.4 190.8,75.4 190.8,68.8 190.9,83.7 190.9,97 191,96.1 191,79.1 191,73.1 191.1,82.5 191.1,85.6 191.2,74.6 191.2,68.1 191.3,82.5 191.3,79.7 191.4,70.7 191.4,63 191.5,55 191.5,57.3 191.6,59.2 191.6,51.4 191.7,53.5 191.7,64.5 191.7,75.6 191.8,85.4 191.8,83 191.9,47.5 191.9,92.4 192,92.1 192,99.2 192.1,94.8 192.1,83.6 192.2,75.3 192.2,74 192.3,63.8 192.3,52.7 192.3,103.4 192.4,91.4 192.4,103.9 192.5,99.1 192.5,100.2 192.6,108.7 192.6,108.7 192.7,105.1 192.7,83.3 192.8,56.3 192.8,56.1 192.9,80.6 192.9,92.4 193,101.3 193,100.7 193,85.8 193.1,79.9 193.1,80.3 193.2,74.3 193.2,72.6 193.3,39.9 193.3,73.2 193.4,70.9 193.4,74.5 193.5,74.1 193.5,77 193.6,91.9 193.6,91.8 193.7,83.5 193.7,80.1 193.7,112.3 193.8,91.2 193.8,95.5 193.9,84.3 193.9,78.8 194,32.3 194,64.7 194.1,60.2 194.1,61.2 194.2,67.8 194.2,72.1 194.3,61.8 194.3,72.4 194.3,71.6 194.4,65.8 194.4,68.7 194.5,76.3 194.5,85.1 194.6,82.9 194.6,71.8 194.7,130 194.7,72.6 194.8,68.7 194.8,67.7 194.9,74.4 194.9,81.2 195,86.5 195,92.1 195,80.1 195.1,73.5 195.1,75.3 195.2,70.1 195.2,71.7 195.3,75.9 195.3,70.2 195.4,65.4 195.4,57.6 195.5,77.1 195.5,87.5 195.6,82.1 195.6,69.6 195.6,62.1 195.7,68.9 195.7,68.3 195.8,54.2 195.8,58.4 195.9,72.6 195.9,81.8 196,87.1 196,73.5 196.1,65 196.1,82.7 196.2,90.1 196.2,87.4 196.3,89.1 196.3,77.8 196.3,84.9 196.4,85.3 196.4,74.5 196.5,65.6 196.5,74.8 196.6,92.7 196.6,93.3 196.7,86.6 196.7,90.9 196.8,86.1 196.8,79.6 196.9,69.7 196.9,72.8 197,86.4 197,78.1 197,73.4 197.1,80.3 197.1,84.4 197.2,85.2 197.2,79.5 197.3,70.9 197.3,64.1 197.4,65.7 197.4,75.3 197.5,78.6 197.5,79.3 197.6,89.9 197.6,86.2 197.6,71.8 197.7,66.5 197.7,74.7 197.8,78.6 197.8,80.4 197.9,78.3 197.9,77.6 198,78.1 198,75.8 198.1,75 198.1,74.6 198.2,77.4 198.2,79.5 198.3,75.8 198.3,73.9 198.3,74.9 198.4,72.1 198.4,73.1 198.5,75.8 198.5,76.4 198.6,77.6 198.6,77.1 198.7,73.4 198.7,73 198.8,75.7 198.8,76.4 198.9,75.3 198.9,72.9 198.9,72.4 199,75.1 199,75.3 199.1,74.7 199.1,73.2 199.2,73.2 199.2,77.5 199.3,80 199.3,78.6 199.4,77.2 199.4,74.4 199.5,75.6 199.5,76.1 199.6,75.2 199.6,75.2 199.6,75.9 199.7,75.1 199.7,74.1 199.8,73.9 199.8,72.7 199.9,75.2 199.9,78 200,76.8 200,77.1 200.1,74.5 200.1,71.5 200.2,73.2 200.2,76.7 200.3,77.1 200.3,75.1 200.3,73.8 200.4,74.8 200.4,74.1 200.5,74.4 200.5,75.3 200.6,74.7 200.6,74.2 200.7,77 200.7,77.1 200.8,74.4 200.8,74.4 200.9,77 200.9,77.9 200.9,77.2 201,75.7 201,75.1 201.1,73.5 201.1,73.5 201.2,74.4 201.2,74.6 201.3,74.1 201.3,74 201.4,74.7 201.4,74.6 201.5,74.3 201.5,74.5 201.6,74.3 201.6,75.4 201.6,76.2 201.7,74.6 201.7,72.6 201.8,73.5 201.8,76.3 201.9,76.1 201.9,76.1 202,76.3 202,76.2 202.1,76.2 202.1,76.3 202.2,76 202.2,76.1 202.2,77.5 202.3,78.2 202.3,78 202.4,77.2 202.4,76 202.5,76.5 202.5,76 202.6,75.1 202.6,74.5 202.7,74.5 202.7,74.2 202.8,74.8 202.8,74.8 202.9,75.2 202.9,76.4 202.9,74.9 203,73.6 203,74.6 203.1,74.6 203.1,73.3 203.2,73.9 203.2,75.1 203.3,77.4 203.3,76.7 203.4,75.8 203.4,74.7 203.5,74.1 203.5,75.2 203.6,77.1 203.6,78.2 203.6,75.3 203.7,73.7 203.7,74.8 203.8,75.6 203.8,74.7 203.9,73.8 203.9,73.2 204,73.2 204,75.6 204.1,76.8 204.1,75 204.2,74.1 204.2,75.3 204.2,76 204.3,76.8 204.3,77.5 204.4,77.8 204.4,77.9 204.5,75.9 204.5,74.5 204.6,74.7 204.6,76.3 204.7,77.3 204.7,78.2 204.8,77.3 204.8,74 204.9,72.7 204.9,75.3 204.9,75.8 205,75 205,75.5 205.1,75.3 205.1,75.6 205.2,75.5 205.2,74.9 205.3,75.9 205.3,76.5 205.4,75.2 205.4,75.4 205.5,76.3 205.5,76.3 205.5,75.6 205.6,75.9 205.6,75.2 205.7,74.4 205.7,74.7 205.8,75 205.8,76 205.9,75.1 205.9,73.8 206,73.2 206,74.1 206.1,74.6 206.1,75.7 206.2,77 206.2,77.1 206.2,76.3 206.3,75.4 206.3,75.9 206.4,75.3 206.4,74 206.5,73.3 206.5,73.3 206.6,74 206.6,76.1 206.7,76.2 206.7,74.9 206.8,74 206.8,74.8 206.9,76.1 206.9,76.7 206.9,76.9 207,76.2 207,76.8 207.1,75.5 207.1,74 207.2,74.8 207.2,76.5 207.3,76.1 207.3,75.8 207.4,75.1 207.4,73.9 207.5,75.1 207.5,77.1 207.5,76.8 207.6,75.2 207.6,75.5 207.7,77.2 207.7,77.9 207.8,77 207.8,75.9 207.9,75.1 207.9,75.4 208,74.6 208,74.7 208.1,76.7 208.1,76 208.2,74.5 208.2,75.2 208.2,75.2 208.3,74.9 208.3,76.1 208.4,77 208.4,77.1 208.5,76 208.5,76.1 208.6,77.2 208.6,77.8 208.7,75.5 208.7,74.8 208.8,75.5 208.8,75.8 208.8,77.6 208.9,77.4 208.9,76.2 209,74.8 209,77.6 209.1,78.2 209.1,76.6 209.2,74.8 209.2,74.2 209.3,74.8 209.3,74.6 209.4,73.8 209.4,75.1 209.5,74.7 209.5,74.3 209.5,76.3 209.6,76.4 209.6,74.7 209.7,75.3 209.7,76.6 209.8,75.3 209.8,73.7 209.9,74.6 209.9,74.8 210,75.4 210,75.4 210.1,73.7 210.1,73.3 210.2,73.9 210.2,75.1 210.2,75.4 210.3,75.1 210.3,75.2 210.4,75.9 210.4,75.7 210.5,75.1 210.5,76.4 210.6,76.8 210.6,76.6 210.7,77 210.7,77.5 210.8,76.7 210.8,75.4 210.8,75.9 210.9,75.8 210.9,74.8 211,75.8 211,75 211.1,75.5 211.1,77.1 211.2,76.9 211.2,75.6 211.3,74 211.3,74.2 211.4,76.1 211.4,77.9 211.5,78.2 211.5,77.4 211.5,77.4 211.6,76.6 211.6,75.8 211.7,74.8 211.7,74.3 211.8,74.8 211.8,75.1 211.9,75 211.9,74.1 212,73.3 212,72.7 212.1,73.7 212.1,76.4 212.1,77.2 212.2,75.2 212.2,74.4 212.3,75 212.3,74.2 212.4,74.8 212.4,75.5 212.5,76.1 212.5,78 212.6,78.5 212.6,77.6 212.7,77.3 212.7,76.5 212.8,77.2 212.8,79.1 212.8,77.9 212.9,76.9 212.9,78.5 213,78.2 213,78.6 213.1,78.1 213.1,75 213.2,74.2 213.2,75.8 213.3,75.7 213.3,73.7 213.4,73.6 213.4,74.6 213.5,74.6 213.5,75.3 213.5,75.7 213.6,75.4 213.6,75.7 213.7,75.4 213.7,76.1 213.8,76.8 213.8,76.5 213.9,75 213.9,74.2 214,75.2 214,76.3 214.1,76.1 214.1,77.3 214.1,77.8 214.2,76.2 214.2,74.5 214.3,74.1 214.3,73.8 214.4,73.2 214.4,74 214.5,75.2 214.5,75.1 214.6,75.4 214.6,75 214.7,74.9 214.7,76.4 214.8,77.8 214.8,77 214.8,76.4 214.9,76.4 214.9,77.1 215,78.4 215,78.1 215.1,75.4 215.1,74.1 215.2,74.6 215.2,74.2 215.3,72.6 215.3,73.5 215.4,74.6 215.4,74.5 215.4,74.8 215.5,74.5 215.5,74.5 215.6,74.7 215.6,75.4 215.7,75.8 215.7,74.6 215.8,74.4 215.8,76.5 215.9,77.5 215.9,77 216,75.2 216,74.9 216.1,74.9 216.1,75.7 216.1,75.3 216.2,76.2 216.2,76.2 216.3,75.4 216.3,76.2 216.4,76.1 216.4,74.7 216.5,74.1 216.5,72.1 216.6,71.5 216.6,74.9 216.7,77.4 216.7,78.8 216.8,77.9 216.8,75.4 216.8,74.6 216.9,74.7 216.9,75.4 217,77.6 217,77.9 217.1,74.9 217.1,73.8 217.2,73.6 217.2,74.3 217.3,74.7 217.3,75.8 217.4,76 217.4,75.5 217.4,74.1 217.5,72.9 217.5,75.6 217.6,79.5 217.6,77.6 217.7,75.2 217.7,74.3 217.8,75.3 217.8,77.1 217.9,77.6 217.9,77.1 218,75.9 218,73.4 218.1,73.5 218.1,74.1 218.1,72.4 218.2,71.6 218.2,74.3 218.3,75.9 218.3,77 218.4,78.3 218.4,78.1 218.5,77.2 218.5,75.1 218.6,73.9 218.6,74.2 218.7,75.4 218.7,75.2 218.7,76.5 218.8,75.4 218.8,72.6 218.9,71.6 218.9,71 219,70.3 219,72.3 219.1,75.2 219.1,76.5 219.2,76.8 219.2,76.3 219.3,77.2 219.3,78 219.4,78.8 219.4,77.1 219.4,72.1 219.5,73.7 219.5,77.8 219.6,76.8 219.6,77.9 219.7,79.7 219.7,77.3 219.8,74.9 219.8,73.5 219.9,73.8 219.9,76 220,75.6 220,74 220.1,73.7 220.1,74.1 220.1,74.1 220.2,74.3 220.2,77.7 220.3,77.5 220.3,73.3 220.4,72.5 220.4,72.9 220.5,74.4 220.5,76.1 220.6,76.4 220.6,75.9 220.7,76.2 220.7,75.9 220.7,74.9 220.8,73.2 220.8,72.1 220.9,72.4 220.9,75.2 221,75.1 221,73.6 221.1,75.9 221.1,79 221.2,76.6 221.2,75.6 221.3,76.5 221.3,76.9 221.4,75.9 221.4,73.2 221.4,72.9 221.5,73.2 221.5,72.3 221.6,73.4 221.6,76.8 221.7,78.4 221.7,77.3 221.8,74.7 221.8,73.6 221.9,72.5 221.9,73.5 222,76 222,77.5 222,74.9 222.1,72 222.1,75.2 222.2,77 222.2,75.1 222.3,73 222.3,75 222.4,77.5 222.4,77.2 222.5,75.8 222.5,74.1 222.6,71 222.6,69.7 222.7,70 222.7,72.7 222.7,75.1 222.8,75.9 222.8,73.6 222.9,71.7 222.9,72.5 223,74 223,74.1 223.1,75.1 223.1,75.7 223.2,75.6 223.2,75.1 223.3,74.4 223.3,73.3 223.4,74.3 223.4,74.3 223.4,72.7 223.5,72.2 223.5,73 223.6,74.4 223.6,73.4 223.7,75 223.7,77.2 223.8,77.4 223.8,78.4 223.9,78.3 223.9,76.2 224,75 224,76.6 224,75.8 224.1,74.3 224.1,72.5 224.2,73 224.2,72.8 224.3,73.2 224.3,76.4 224.4,77.9 224.4,78.9 224.5,77.8 224.5,75.6 224.6,75.1 224.6,75.1 224.7,76.3 224.7,77 224.7,77 224.8,78.1 224.8,79.4 224.9,79.2 224.9,76.8 225,75.9 225,77.8 225.1,79.2 225.1,81 225.2,79.6 225.2,77.6 225.3,77.6 225.3,76.2 225.3,75.8 225.4,75.8 225.4,77.5 225.5,78.5 225.5,76.3 225.6,74.9 225.6,75.7 225.7,75.9 225.7,76.8 225.8,75.8 225.8,73.9 225.9,75.4 225.9,76.8 226,75.5 226,75.6 226,76.2 226.1,77.2 226.1,79.6 226.2,75.4 226.2,72 226.3,75 226.3,77.3 226.4,72.7 226.4,69.9 226.5,73.4 226.5,77.4 226.6,77.7 226.6,76.2 226.7,74.5 226.7,73.1 226.7,75.5 226.8,79.3 226.8,77.9 226.9,74.8 226.9,73 227,76.3 227,78.6 227.1,77.2 227.1,76.9 227.2,77.8 227.2,75.2 227.3,74.4 227.3,73.6 227.3,73.2 227.4,72.7 227.4,71.3 227.5,71.8 227.5,74.8 227.6,75 227.6,73.7 227.7,74.9 227.7,76.4 227.8,76.6 227.8,77.7 227.9,79.9 227.9,81.2 228,76.6 228,71.7 228,72.1 228.1,73.4 228.1,75.1 228.2,76.3 228.2,75.2 228.3,75.1 228.3,75.5 228.4,75.6 228.4,76.2 228.5,75.1 228.5,73.4 228.6,72.9 228.6,73.6 228.6,73.8 228.7,76.5 228.7,81.1 228.8,81.2 228.8,78.6 228.9,77.5 228.9,76.5 229,77.9 229,77.8 229.1,77.6 229.1,77.9 229.2,77.3 229.2,76.1 229.3,75.8 229.3,76.2 229.3,75.2 229.4,74.6 229.4,76 229.5,77.5 229.5,77.8 229.6,77.5 229.6,76.7 229.7,73.4 229.7,69.4 229.8,70.9 229.8,73.6 229.9,73.6 229.9,72.6 230,71.3 230,72.2 230,74 230.1,72.6 230.1,75.1 230.2,76.7 230.2,78.6 230.3,80.8 230.3,78.5 230.4,72 230.4,71.8 230.5,76.6 230.5,77 230.6,74.3 230.6,75.4 230.6,73.2 230.7,70.1 230.7,70.5 230.8,71.4 230.8,75.1 230.9,79.3 230.9,80.1 231,79.6 231,77.6 231.1,77.8 231.1,76.8 231.2,77 231.2,76.8 231.3,75.5 231.3,76.6 231.3,76.5 231.4,74.3 231.4,75.9 231.5,77.4 231.5,75.7 231.6,77.1 231.6,75.7 231.7,74.6 231.7,76.3 231.8,77.7 231.8,77.3 231.9,77.5 231.9,77.3 231.9,75.4 232,76.6 232,76.2 232.1,74.2 232.1,77.2 232.2,79.3 232.2,77.1 232.3,75.4 232.3,73.4 232.4,71.4 232.4,73.2 232.5,71.9 232.5,70.9 232.6,71.5 232.6,74.5 232.6,76.2 232.7,75.8 232.7,73.9 232.8,71.6 232.8,72.5 232.9,76.4 232.9,74.3 233,73.7 233,75.8 233.1,77.3 233.1,77.3 233.2,77.9 233.2,75.3 233.3,76.4 233.3,76.5 233.3,75.4 233.4,75.5 233.4,76.8 233.5,74.2 233.5,72.1 233.6,71.1 233.6,73.4 233.7,77.1 233.7,79.8 233.8,76.4 233.8,72.8 233.9,75.2 233.9,76.8 233.9,75.5 234,75.2 234,76.5 234.1,72.4 234.1,71.6 234.2,72.8 234.2,72.6 234.3,71.3 234.3,73.5 234.4,73.8 234.4,75.6 234.5,78 234.5,76.2 234.6,74.3 234.6,75.6 234.6,76.5 234.7,76.8 234.7,78.4 234.8,78.6 234.8,77.2 234.9,76.8 234.9,74.2 235,71.9 235,70.7 235.1,72 235.1,74.5 235.2,75.7 235.2,77 235.2,75.8 235.3,74.8 235.3,73.5 235.4,75.4 235.4,76.2 235.5,76.2 235.5,74.2 235.6,74.2 235.6,74.8 235.7,71.6 235.7,73.9 235.8,78.8 235.8,80.6 235.9,82.3 235.9,81.9 235.9,79.8 236,79.9 236,78.2 236.1,78.9 236.1,76.1 236.2,72.6 236.2,74.4 236.3,74.4 236.3,73 236.4,74.4 236.4,75.2 236.5,76.9 236.5,76.8 236.6,75.6 236.6,76 236.6,76.7 236.7,75 236.7,73.3 236.8,73.5 236.8,75.5 236.9,76.5 236.9,74.1 237,74.2 237,78.8 237.1,81.1 237.1,77 237.2,73 237.2,73.7 237.2,75.8 237.3,74.5 237.3,75.3 237.4,74.6 237.4,74.6 237.5,73.4 237.5,73.7 237.6,74.8 237.6,74.9 237.7,76.6 237.7,77.2 237.8,77.3 237.8,76.6 237.9,73.6 237.9,73 237.9,75.4 238,76.9 238,75.2 238.1,74.1 238.1,74 238.2,75.1 238.2,74.7 238.3,73.6 238.3,75.8 238.4,78 238.4,79.6 238.5,78.4 238.5,77.3 238.5,76.2 238.6,75.3 238.6,75.9 238.7,75.7 238.7,76.6 238.8,78.4 238.8,79.2 238.9,76.1 238.9,75.2 239,77.6 239,79.2 239.1,80.1 239.1,78.9 239.2,78 239.2,76.1 239.2,75.3 239.3,75.6 239.3,78.3 239.4,79.8 239.4,77.8 239.5,75.6 239.5,72.7 239.6,72.7 239.6,72.4 239.7,74 239.7,77.2 239.8,79 239.8,77.1 239.9,74.9 239.9,74.9 239.9,75 240,76.1 240,77.8 240.1,77 240.1,77.1 240.2,75.6 240.2,75.1 240.3,78.5 240.3,77.5 240.4,74.7 240.4,73.6 240.5,75.4 240.5,76.5 240.5,74.7 240.6,75.6 240.6,78.6 240.7,78.8 240.7,81.3 240.8,81.3 240.8,80.9 240.9,80.2 240.9,79.1 241,75.3 241,76.4 241.1,75.2 241.1,72.3 241.2,71.1 241.2,73.1 241.2,73.7 241.3,76.5 241.3,77 241.4,77.3 241.4,77.4 241.5,74 241.5,69.7 241.6,69.3 241.6,73.2 241.7,77.6 241.7,77.5 241.8,74.6 241.8,73.4 241.8,74.1 241.9,76.3 241.9,77.2 242,75.4 242,73.9 242.1,73.1 242.1,74.7 242.2,72.7 242.2,69.7 242.3,68.7 242.3,70.3 242.4,76.8 242.4,78.9 242.5,77.6 242.5,79.7 242.5,80.2 242.6,74.1 242.6,71.9 242.7,72.1 242.7,72.6 242.8,72.1 242.8,73.1 242.9,72.7 242.9,71.8 243,75.7 243,76.8 243.1,77.2 243.1,73.8 243.2,76.1 243.2,80.9 243.2,81.8 243.3,75.9 243.3,70.1 243.4,73.8 243.4,81.4 243.5,79.8 243.5,70.9 243.6,75.6 243.6,80.6 243.7,76.3 243.7,70.7 243.8,68.7 243.8,74.5 243.8,77.6 243.9,75.6 243.9,77.4 244,74.8 244,71.3 244.1,71 244.1,79.3 244.2,81.4 244.2,75 244.3,76.8 244.3,88.4 244.4,87 244.4,56.4 244.5,69.8 244.5,88.1 244.5,57.6 244.6,63.2 244.6,71.5 244.7,74.3 244.7,71.5 244.8,69 244.8,70.5 244.9,68.9 244.9,73.3 245,71.3 245,72.7 245.1,72.9 245.1,67.1 245.2,68.7 245.2,75.5 245.2,77.5 245.3,75.1 245.3,76.6 245.4,76.4 245.4,78.3 245.5,78.3 245.5,79 245.6,74.6 245.6,66.5 245.7,66.6 245.7,74.8 245.8,80.2 245.8,82.1 245.8,75.6 245.9,72.5 245.9,78.5 246,80.1 246,77 246.1,76.8 246.1,72.8 246.2,68 246.2,69.1 246.3,68 246.3,65.8 246.4,69.5 246.4,71.9 246.5,75 246.5,75.6 246.5,72.9 246.6,78.4 246.6,79.9 246.7,82.3 246.7,83.7 246.8,83.1 246.8,78.1 246.9,72.1 246.9,72.8 247,80.5 247,78.8 247.1,78.3 247.1,79.1 247.1,76.9 247.2,75.2 247.2,75.2 247.3,71.3 247.3,65.8 247.4,70.2 247.4,75.4 247.5,77.7 247.5,74 247.6,76.1 247.6,78.3 247.7,79.5 247.7,79.6 247.8,82.9 247.8,86.1 247.8,85.4 247.9,80.2 247.9,74.6 248,68.4 248,62.5 248.1,64.6 248.1,75.4 248.2,78.3 248.2,75.2 248.3,75.4 248.3,69.6 248.4,69.9 248.4,75.4 248.5,70.1 248.5,65.5 248.5,70.1 248.6,75.5 248.6,75.6 248.7,74.8 248.7,77.1 248.8,75.7 248.8,77.7 248.9,81.8 248.9,81.1 249,76.8 249,78.7 249.1,80.8 249.1,85.7 249.1,80.6 249.2,74.1 249.2,69.9 249.3,66.7 249.3,67.5 249.4,70.8 249.4,78.1 249.5,85.6 249.5,87.5 249.6,82.5 249.6,72.8 249.7,66.6 249.7,68.5 249.8,69.8 249.8,69.9 249.8,74.1 249.9,74.7 249.9,74.5 250,74.7 250,80.1 250.1,86.3 250.1,84.1 250.2,76.2 250.2,60.1 250.3,60.7 250.3,77 250.4,83.5 250.4,82.8 250.4,82.4 250.5,70.8 250.5,72.6 250.6,74.2 250.6,63.4 250.7,59.8 250.7,65.3 250.8,72.2 250.8,88.3 250.9,91.4 250.9,91.8 251,88.3 251,65.4 251.1,56.9 251.1,78.6 251.1,80.4 251.2,69.8 251.2,74.1 251.3,79.3 251.3,81.7 251.4,79.4 251.4,79.8 251.5,70.1 251.5,66.5 251.6,72.7 251.6,81.4 251.7,78.9 251.7,76.5 251.8,87.1 251.8,98.5 251.8,104.1 251.9,91.2 251.9,76.6 252,73.2 252,88.9 252.1,88.7 252.1,66.4 252.2,65.5 252.2,84.3 252.3,93.3 252.3,96 252.4,78.6 252.4,60.8 252.4,66.6 252.5,81 252.5,80.4 252.6,80.7 252.6,77.8 252.7,76.5 252.7,65.7 252.8,58.6 252.8,64.3 252.9,67.6 252.9,65.8 253,66.6 253,76.3 253.1,78.8 253.1,71.7 253.1,61.8 253.2,65.2 253.2,70.5 253.3,82.8 253.3,91.8 253.4,82.8 253.4,74.2 253.5,79.2 253.5,83.8 253.6,79.2 253.6,70 253.7,69 253.7,77.7 253.7,86.3 253.8,69.8 253.8,42.9 253.9,57.4 253.9,67.3 254,75.2 254,81.5 254.1,68.1 254.1,72.7 254.2,80.2 254.2,74.2 254.3,77.1 254.3,80.7 254.4,88.2 254.4,80.4 254.4,72.9 254.5,84.3 254.5,95.4 254.6,88.2 254.6,81.1 254.7,95.1 254.7,93.2 254.8,74.3 254.8,71.8 254.9,77.1 254.9,78.1 255,69.6 255,64.2 255.1,74.9 255.1,41.2 255.1,84.2 255.2,82.5 255.2,67.3 255.3,69.9 255.3,69.5 255.4,72 255.4,74.6 255.5,64.1 255.5,57.6 255.6,48.8 255.6,55.8 255.7,55.3 255.7,42.8 255.7,49.1 255.8,70 255.8,72.7 255.9,52.4 255.9,47.8 256,57.2 256,100.8 256.1,85.4 256.1,81.3 256.2,67.7 256.2,69 256.3,77.7 256.3,89.3 256.4,78.5 256.4,91.5 256.4,108 256.5,98.4 256.5,72 256.6,71.6 256.6,102.3 256.7,101.5 256.7,89.1 256.8,93.8 256.8,92 256.9,89.1 256.9,86.9 257,37.4 257,90.2 257,86.3 257.1,78.6 257.1,71.7 257.2,64.2 257.2,61.5 257.3,64.1 257.3,84.7 257.4,81.5 257.4,70.6 257.5,83.4 257.5,100.2 257.6,85.8 257.6,69.1 257.7,103.4 257.7,63 257.7,72.4 257.8,80.2 257.8,85.9 257.9,105.3 257.9,100.4 258,92 258,89.1 258.1,72.6 258.1,65 258.2,65.7 258.2,85.3 258.3,86.4 258.3,75.4 258.4,74 258.4,67 258.4,69.2 258.5,78.6 258.5,74.8 258.6,69.3 258.6,71.9 258.7,78.2 258.7,81.1 258.8,74.6 258.8,59.7 258.9,59.2 258.9,83.3 259,89.2 259,75.8 259,66.2 259.1,67 259.1,50.3 259.2,56.3 259.2,82.7 259.3,75.6 259.3,70.7 259.4,82.8 259.4,90.4 259.5,80.8 259.5,73.3 259.6,65.5 259.6,69.2 259.7,72.3 259.7,56.5 259.7,52.6 259.8,56.7 259.8,65.7 259.9,67.3 259.9,73.2 260,83.5 260,88.6 260.1,84.4 260.1,85.5 260.2,79.8 260.2,81.2 260.3,78.1 260.3,79.6 260.3,85.2 260.4,85 260.4,77 260.5,67.1 260.5,69.5 260.6,73.2 260.6,74.2 260.7,82.8 260.7,87 260.8,80.8 260.8,72.9 260.9,74.1 260.9,74.8 261,75.1 261,74.1 261,69.4 261.1,71.8 261.1,79.2 261.2,81.1 261.2,79.2 261.3,79 261.3,75.7 261.4,72.8 261.4,73.8 261.5,75.5 261.5,78.2 261.6,80.2 261.6,78.2 261.7,74.1 261.7,76 261.7,75.9 261.8,74.6 261.8,74.7 261.9,77.6 261.9,77.7 262,73.2 262,75.4 262.1,76.1 262.1,76.9 262.2,76 262.2,75.5 262.3,72.4 262.3,74.3 262.3,76.8 262.4,75.2 262.4,78.1 262.5,76.7 262.5,74 262.6,74.1 262.6,73.3 262.7,74.7 262.7,75.4 262.8,73.7 262.8,74.8 262.9,75.4 262.9,74.5 263,76.3 263,78.3 263,75.7 263.1,70.6 263.1,71.2 263.2,75.5 263.2,74.4 263.3,73.3 263.3,74.6 263.4,75.3 263.4,76.7 263.5,75.9 263.5,74.3 263.6,75.1 263.6,76 263.6,76.9 263.7,78.3 263.7,78.2 263.8,77.2 263.8,76.6 263.9,75.8 263.9,74.7 264,77.5 264,78.4 264.1,77 264.1,76.2 264.2,77.1 264.2,76.6 264.3,77.1 264.3,76.8 264.3,75 264.4,73.7 264.4,74.3 264.5,75.7 264.5,74.2 264.6,73.4 264.6,74.2 264.7,74.7 264.7,75.2 264.8,75.1 264.8,73.5 264.9,73 264.9,74.5 265,74.6 265,74.8 265,75.7 265.1,73.9 265.1,73.3 265.2,73.6 265.2,75.4 265.3,76.6 265.3,76 265.4,75.6 265.4,75.9 265.5,74.7 265.5,75.2 265.6,76.2 265.6,75.5 265.6,75.4 265.7,75.7 265.7,76.3 265.8,77.1 265.8,77.2 265.9,75.9 265.9,75.1 266,75.1 266,75.6 266.1,74.8 266.1,74.8 266.2,76 266.2,74.6 266.3,73.1 266.3,74.9 266.3,75.9 266.4,75.9 266.4,75.6 266.5,74.7 266.5,75.2 266.6,75.9 266.6,76.1 266.7,75.3 266.7,75.5 266.8,76 266.8,75.2 266.9,73.8 266.9,74.4 266.9,74.4 267,73.8 267,74.4 267.1,74.8 267.1,75.8 267.2,76.2 267.2,77.4 267.3,76.5 267.3,76.2 267.4,75.8 267.4,74.2 267.5,73.6 267.5,73.3 267.6,73.1 267.6,73.8 267.6,74.4 267.7,74.2 267.7,73 267.8,74 267.8,76.2 267.9,77.1 267.9,77 268,76 268,74.3 268.1,74.1 268.1,74.5 268.2,76 268.2,76.1 268.3,75.6 268.3,77.7 268.3,78.6 268.4,78.5 268.4,76 268.5,73.5 268.5,74.5 268.6,73.9 268.6,73.7 268.7,75.7 268.7,76.3 268.8,75.3 268.8,75.4 268.9,77.1 268.9,76.3 268.9,74.6 269,75.4 269,74.9 269.1,74.4 269.1,75.4 269.2,76 269.2,76.5 269.3,76.8 269.3,77.2 269.4,77.7 269.4,76.8 269.5,75.7 269.5,75.1 269.6,75.8 269.6,75.4 269.6,73.9 269.7,74.8 269.7,75.9 269.8,76.1 269.8,76.2 269.9,76.6 269.9,76.8 270,77.2 270,77.4 270.1,77.1 270.1,76.4 270.2,74.9 270.2,75.1 270.2,74 270.3,73.9 270.3,73.8 270.4,74.3 270.4,75.6 270.5,74.3 270.5,74.6 270.6,76 270.6,76.3 270.7,76.1 270.7,76.1 270.8,74.4 270.8,74.5 270.9,74.6 270.9,75" fill="none" stroke="#ff1010" stroke-width="0.45" stroke-opacity="0.55"/>
<rect x="38.4" y="12.1" width="232.5" height="126.9" fill="none" stroke="#474747" stroke-width="1.25"/>
<g stroke="#444" stroke-width="0.9"><line x1="38.5" y1="24.69" x2="40.80" y2="24.69"/><line x1="38.5" y1="50.07" x2="40.80" y2="50.07"/><line x1="38.5" y1="75.45" x2="40.80" y2="75.45"/><line x1="38.5" y1="100.83" x2="40.80" y2="100.83"/><line x1="38.5" y1="126.21" x2="40.80" y2="126.21"/><line x1="84.98" y1="138.9" x2="84.98" y2="136.60"/><line x1="131.46" y1="138.9" x2="131.46" y2="136.60"/><line x1="177.94" y1="138.9" x2="177.94" y2="136.60"/><line x1="224.42" y1="138.9" x2="224.42" y2="136.60"/></g>
<g class="tk" text-anchor="end"><text x="35.6" y="27.14">400</text><text x="35.6" y="52.52">200</text><text x="35.6" y="77.90">0</text><text x="35.6" y="103.28">-200</text><text x="35.6" y="128.66">-400</text></g>
<g class="tk" text-anchor="middle"><text x="37.6" y="147.3">0</text><text x="83.7" y="147.3">1</text><text x="128.4" y="147.3">2</text><text x="174.8" y="147.3">3</text><text x="221.2" y="147.3">4</text><text x="265" y="147.3">5</text></g>
<text class="sr" x="139.5" y="152.1" font-size="9.7">Time[s]</text>
<text class="sr" font-size="10.2" transform="translate(16.8,113.5) rotate(-90)">Amplitude [mV]</text>

<polyline points="305.6,74.3 305.6,73.6 305.7,73.8 305.7,74.8 305.8,75.4 305.8,75.2 305.9,74.8 305.9,74.7 306,75 306,75.3 306.1,74.6 306.1,74.3 306.2,74.5 306.2,74.9 306.3,74.9 306.3,74.5 306.4,74.3 306.4,74.7 306.5,74.9 306.5,75.1 306.5,75.9 306.6,76.2 306.6,75.8 306.7,76.2 306.7,76.9 306.8,76.6 306.8,76.4 306.9,76.6 306.9,76.4 307,75.3 307,74.6 307.1,75 307.1,75.2 307.2,74.7 307.2,74.4 307.3,74.5 307.3,74.2 307.3,74.2 307.4,74.9 307.4,75.3 307.5,74.9 307.5,74.4 307.6,74.7 307.6,75.7 307.7,76.3 307.7,76.6 307.8,76.4 307.8,75.5 307.9,74.9 307.9,74.6 308,73.9 308,73.6 308.1,73.8 308.1,74.1 308.2,74.6 308.2,75.1 308.2,74.9 308.3,75.1 308.3,75.7 308.4,75.4 308.4,74.9 308.5,74.7 308.5,74.9 308.6,75 308.6,75.1 308.7,75.2 308.7,74.9 308.8,74.7 308.8,74.7 308.9,74.6 308.9,74.2 309,74.2 309,74.3 309,73.9 309.1,73.3 309.1,73.7 309.2,74.8 309.2,74.7 309.3,74.5 309.3,75.1 309.4,75.2 309.4,75 309.5,75 309.5,74.6 309.6,74.6 309.6,75.7 309.7,76.2 309.7,75.8 309.8,74.6 309.8,73.3 309.9,73.7 309.9,75.3 309.9,75.4 310,74.2 310,73.6 310.1,74.2 310.1,75 310.2,75 310.2,75.1 310.3,75.3 310.3,75.3 310.4,74.9 310.4,74.7 310.5,75.1 310.5,75.7 310.6,76 310.6,75.4 310.7,74.7 310.7,75.1 310.8,75.3 310.8,74.2 310.8,73.3 310.9,73.2 310.9,74.3 311,75.5 311,75.3 311.1,73.7 311.1,73.2 311.2,74.6 311.2,75.3 311.3,75.2 311.3,75.5 311.4,75.5 311.4,75.2 311.5,74.5 311.5,74.1 311.6,74.1 311.6,74.4 311.6,74.9 311.7,75.8 311.7,76.8 311.8,76.5 311.8,75.4 311.9,74.9 311.9,74.4 312,73.8 312,73.4 312.1,73.4 312.1,73.9 312.2,74.9 312.2,75.7 312.3,76 312.3,76.2 312.4,76.2 312.4,75.9 312.5,75.3 312.5,75.2 312.5,75.9 312.6,76.4 312.6,75.6 312.7,74.5 312.7,74 312.8,74.4 312.8,75.2 312.9,74.7 312.9,73.4 313,72.7 313,72.6 313.1,73 313.1,74.2 313.2,74.6 313.2,74.3 313.3,74.1 313.3,74.2 313.4,74.6 313.4,75.3 313.4,76 313.5,76 313.5,75.7 313.6,75.3 313.6,75 313.7,74.3 313.7,74 313.8,74.2 313.8,74.5 313.9,74.9 313.9,75.3 314,75.4 314,75.2 314.1,74.9 314.1,74.7 314.2,75 314.2,75.3 314.2,75.2 314.3,75.6 314.3,75.9 314.4,75.7 314.4,75.5 314.5,75.4 314.5,75.9 314.6,76.2 314.6,75.5 314.7,74.6 314.7,75 314.8,75.9 314.8,76.1 314.9,75.7 314.9,75 315,75.2 315,75 315.1,75.1 315.1,75.7 315.1,74.8 315.2,73.5 315.2,73.3 315.3,73.4 315.3,73.3 315.4,73.7 315.4,74.2 315.5,74.4 315.5,74.7 315.6,75.2 315.6,75.2 315.7,76.3 315.7,76.5 315.8,73.4 315.8,70.3 315.9,71.1 315.9,73.5 315.9,74.4 316,75.4 316,76.4 316.1,78.6 316.1,81.1 316.2,80.3 316.2,80.2 316.3,82 316.3,84.1 316.4,84 316.4,79.2 316.5,71.6 316.5,67.9 316.6,69.3 316.6,71.9 316.7,77.5 316.7,81.3 316.8,77.9 316.8,74.7 316.8,74.6 316.9,73.8 316.9,75 317,80.4 317,83.1 317.1,80.4 317.1,77.4 317.2,73.7 317.2,67.9 317.3,66.3 317.3,69.6 317.4,69.3 317.4,67.1 317.5,66.8 317.5,68.7 317.6,70.4 317.6,66.6 317.7,63 317.7,67.2 317.7,72 317.8,70 317.8,67.7 317.9,70.4 317.9,72.4 318,72.5 318,75.4 318.1,75.8 318.1,76.7 318.2,76.6 318.2,72.6 318.3,73.7 318.3,77.2 318.4,77.4 318.4,81.2 318.5,85.6 318.5,82 318.5,75 318.6,71.5 318.6,72.1 318.7,72.8 318.7,72.5 318.8,71.4 318.8,69.5 318.9,70.3 318.9,71.8 319,74.8 319,78.9 319.1,60.4 319.1,70 319.2,70.5 319.2,73.8 319.3,75.1 319.3,86.6 319.4,76.5 319.4,77.5 319.4,78.8 319.5,78.3 319.5,75.5 319.6,78.9 319.6,83.3 319.7,81.3 319.7,78.3 319.8,78.1 319.8,76.6 319.9,67.4 319.9,62.2 320,70.2 320,75.5 320.1,76.5 320.1,80 320.2,84.8 320.2,82.9 320.3,76.1 320.3,71 320.3,69.8 320.4,71.9 320.4,68.6 320.5,65.8 320.5,73.2 320.6,78.7 320.6,77 320.7,73.8 320.7,72.2 320.8,74.1 320.8,75.2 320.9,69.8 320.9,64.9 321,71.2 321,80.8 321.1,81.3 321.1,77.8 321.1,74.3 321.2,71 321.2,67.8 321.3,67.9 321.3,70.2 321.4,72.7 321.4,73.5 321.5,72.1 321.5,70.9 321.6,72 321.6,72.9 321.7,72.4 321.7,73.4 321.8,75.6 321.8,77.3 321.9,78.3 321.9,79.7 322,79.4 322,75.7 322,73.6 322.1,73.4 322.1,72.9 322.2,73.5 322.2,76.1 322.3,78.4 322.3,76.6 322.4,73 322.4,70.2 322.5,69.8 322.5,72.3 322.6,76.8 322.6,78.4 322.7,76.1 322.7,74 322.8,73.5 322.8,74.4 322.8,75.8 322.9,76.7 322.9,75.9 323,75.1 323,74.4 323.1,74.1 323.1,74.3 323.2,74.3 323.2,73.9 323.3,73.4 323.3,74.1 323.4,75.4 323.4,74.6 323.5,72.7 323.5,72.5 323.6,72.8 323.6,74.1 323.7,76 323.7,76.4 323.7,75.2 323.8,74.3 323.8,75.1 323.9,77 323.9,76.9 324,74.9 324,74.8 324.1,77 324.1,76.8 324.2,75.6 324.2,75.1 324.3,74.7 324.3,73 324.4,71.4 324.4,72 324.5,73.2 324.5,74.4 324.6,75.3 324.6,75.1 324.6,75.8 324.7,76.6 324.7,76 324.8,74.8 324.8,74 324.9,74.4 324.9,73.9 325,71.4 325,70 325.1,70.4 325.1,72.3 325.2,74.6 325.2,75.8 325.3,74.9 325.3,73.8 325.4,75.5 325.4,77.9 325.4,78.4 325.5,78.3 325.5,78.1 325.6,79 325.6,78.8 325.7,77.1 325.7,77.1 325.8,76.9 325.8,73.2 325.9,71.5 325.9,73.1 326,73.5 326,75.2 326.1,76.9 326.1,77.5 326.2,76.6 326.2,73.7 326.3,73.8 326.3,76.3 326.3,78.3 326.4,78.9 326.4,77 326.5,76.2 326.5,78 326.6,77.3 326.6,73.9 326.7,71.1 326.7,71.5 326.8,74.7 326.8,76.2 326.9,75.6 326.9,75.4 327,74.1 327,70.9 327.1,69.7 327.1,72 327.2,74.3 327.2,76.4 327.2,78.6 327.3,78 327.3,74.5 327.4,70.2 327.4,70.5 327.5,74 327.5,78 327.6,79.2 327.6,74.8 327.7,71.9 327.7,73.1 327.8,73.4 327.8,74.4 327.9,75.5 327.9,72.9 328,70.9 328,72.3 328,73.8 328.1,75.2 328.1,76.9 328.2,75.5 328.2,74.3 328.3,75.1 328.3,75.3 328.4,77.7 328.4,80.3 328.5,79.3 328.5,77.8 328.6,76.9 328.6,76.2 328.7,75 328.7,75.2 328.8,75.7 328.8,76 328.9,74.7 328.9,72.8 328.9,73.9 329,76.5 329,76.4 329.1,73.3 329.1,72.6 329.2,74.4 329.2,76.3 329.3,78.5 329.3,79.4 329.4,77.8 329.4,75.4 329.5,74.9 329.5,74.9 329.6,73.1 329.6,72 329.7,72.1 329.7,72.7 329.7,74.2 329.8,74.6 329.8,74 329.9,73.8 329.9,74.4 330,75 330,74.4 330.1,75.7 330.1,77.5 330.2,77.1 330.2,73.6 330.3,70.4 330.3,70.4 330.4,73.7 330.4,77.9 330.5,79 330.5,78.1 330.6,76.2 330.6,73.7 330.6,73.4 330.7,74.2 330.7,75.4 330.8,77.6 330.8,78.7 330.9,77.3 330.9,74.7 331,73 331,72.4 331.1,73.8 331.1,76.8 331.2,77.5 331.2,77.4 331.3,77.9 331.3,76 331.4,72.4 331.4,70.6 331.5,71.4 331.5,73.3 331.5,73.9 331.6,73.4 331.6,73.8 331.7,73.1 331.7,72.8 331.8,74.7 331.8,76 331.9,74.9 331.9,73.5 332,73.2 332,73.8 332.1,75.6 332.1,78 332.2,78.1 332.2,77.3 332.3,78.4 332.3,79.7 332.3,79.7 332.4,78.5 332.4,77.5 332.5,76.5 332.5,73.9 332.6,71.9 332.6,72.1 332.7,72.6 332.7,74.4 332.8,76.7 332.8,77.2 332.9,76.5 332.9,75.6 333,74.9 333,73.7 333.1,74.7 333.1,76.3 333.2,74.2 333.2,72.8 333.2,74 333.3,75.5 333.3,77 333.4,77.5 333.4,77.6 333.5,77.9 333.5,79.8 333.6,79.6 333.6,75.1 333.7,72.1 333.7,73 333.8,73.8 333.8,74.3 333.9,74.3 333.9,73.1 334,73.1 334,74.6 334.1,74.8 334.1,75.1 334.1,74.8 334.2,72.4 334.2,71.7 334.3,72.9 334.3,73 334.4,73.5 334.4,73.6 334.5,72.8 334.5,72.9 334.6,72.6 334.6,71.5 334.7,71.6 334.7,73.9 334.8,76.8 334.8,77.2 334.9,75.7 334.9,75.6 334.9,76.2 335,76.7 335,76.7 335.1,75.8 335.1,74.7 335.2,75.3 335.2,75.6 335.3,74.7 335.3,74.7 335.4,76 335.4,76.1 335.5,75 335.5,74 335.6,74.1 335.6,75 335.7,75.2 335.7,75 335.8,74.7 335.8,75.5 335.8,76.2 335.9,74.8 335.9,71.3 336,69.6 336,71.7 336.1,72.6 336.1,74.7 336.2,81.6 336.2,85.2 336.3,81.7 336.3,73.5 336.4,66.6 336.4,66.6 336.5,70.6 336.5,79.2 336.6,87.5 336.6,86.6 336.6,77.8 336.7,75.7 336.7,77.2 336.8,76.5 336.8,75.6 336.9,70.5 336.9,69.5 337,76.3 337,79.1 337.1,76.9 337.1,76.5 337.2,76.3 337.2,76.3 337.3,74.2 337.3,74.7 337.4,78.4 337.4,80.3 337.5,81.6 337.5,84 337.5,81.7 337.6,77.4 337.6,75.6 337.7,74.6 337.7,71.9 337.8,74.6 337.8,75.1 337.9,67.9 337.9,65.8 338,73 338,78.6 338.1,79.1 338.1,78.3 338.2,73.8 338.2,63.3 338.3,68.9 338.3,71.5 338.4,72.4 338.4,71.5 338.4,69.2 338.5,69.8 338.5,72.1 338.6,68.4 338.6,63.5 338.7,87.8 338.7,68 338.8,67 338.8,72.2 338.9,77.2 338.9,77.4 339,78.7 339,78.3 339.1,76.1 339.1,77.2 339.2,79.9 339.2,80 339.2,76.7 339.3,74 339.3,75.7 339.4,73.7 339.4,69.1 339.5,68.5 339.5,66.6 339.6,67.8 339.6,74.8 339.7,78.4 339.7,74.5 339.8,70.2 339.8,69.4 339.9,69.4 339.9,68.2 340,69.6 340,72.4 340.1,72 340.1,73.4 340.1,75.5 340.2,73.3 340.2,70 340.3,72.6 340.3,77 340.4,77 340.4,76 340.5,76.4 340.5,77.6 340.6,77.4 340.6,76.1 340.7,76.4 340.7,76.8 340.8,76.7 340.8,75.8 340.9,74.5 340.9,74.7 341,76 341,76.5 341,75.5 341.1,74.3 341.1,74.3 341.2,74.8 341.2,75.2 341.3,75.4 341.3,75.8 341.4,75.8 341.4,75 341.5,75.2 341.5,75 341.6,73.9 341.6,74 341.7,75.2 341.7,76.7 341.8,77.1 341.8,75.3 341.8,73.9 341.9,74.2 341.9,74.6 342,76.3 342,76.6 342.1,74.9 342.1,73.9 342.2,74.7 342.2,77.7 342.3,81.3 342.3,83.5 342.4,83.5 342.4,82.7 342.5,81 342.5,78.9 342.6,79.6 342.6,78 342.7,73.3 342.7,75.6 342.7,76.8 342.8,71.8 342.8,72 342.9,79.6 342.9,83.9 343,80.1 343,74.9 343.1,75.9 343.1,77.7 343.2,75 343.2,74.3 343.3,79.2 343.3,81.3 343.4,75.8 343.4,64.9 343.5,60.8 343.5,65.5 343.5,71.6 343.6,77.1 343.6,82.1 343.7,82.8 343.7,84.6 343.8,85.6 343.8,82.4 343.9,77.1 343.9,72.1 344,70.7 344,73.8 344.1,76.1 344.1,74 344.2,72 344.2,73.9 344.3,82.9 344.3,88 344.4,62.4 344.4,67.7 344.4,68 344.5,70.9 344.5,69.9 344.6,69.9 344.6,72.5 344.7,75.3 344.7,75.5 344.8,76.4 344.8,79.7 344.9,80.1 344.9,74.7 345,69.4 345,68.2 345.1,68.1 345.1,64.7 345.2,61.6 345.2,63.6 345.3,63.8 345.3,64 345.3,68.1 345.4,69.2 345.4,65.9 345.5,64.8 345.5,68.4 345.6,72.3 345.6,75.7 345.7,76.7 345.7,74.9 345.8,77.9 345.8,82.3 345.9,83.3 345.9,84 346,82.2 346,79 346.1,76.9 346.1,76 346.1,77 346.2,74.8 346.2,70.6 346.3,68.5 346.3,69.7 346.4,72.3 346.4,73.8 346.5,73.5 346.5,73.2 346.6,74.2 346.6,74.4 346.7,74.4 346.7,74.3 346.8,73.2 346.8,72.4 346.9,73.8 346.9,74.4 347,73.9 347,73.6 347,73.5 347.1,73.7 347.1,74.5 347.2,75.9 347.2,76.3 347.3,76.2 347.3,76.1 347.4,76.4 347.4,76.1 347.5,74.8 347.5,73.7 347.6,73.6 347.6,73.8 347.7,74.4 347.7,75.9 347.8,76.8 347.8,76.1 347.9,74.8 347.9,73.5 347.9,73.3 348,73.7 348,72.9 348.1,72.6 348.1,73.1 348.2,73.2 348.2,73.1 348.3,74 348.3,75.1 348.4,75.5 348.4,75.6 348.5,75.2 348.5,74.8 348.6,74.7 348.6,74.9 348.7,75 348.7,74.8 348.7,74.9 348.8,75.3 348.8,75.6 348.9,75.6 348.9,75.5 349,75.7 349,76.4 349.1,77.1 349.1,76.5 349.2,75.4 349.2,75.4 349.3,76.6 349.3,77.3 349.4,76.7 349.4,75.9 349.5,75.8 349.5,75.3 349.6,74.3 349.6,73.8 349.6,74.3 349.7,75.2 349.7,75.4 349.8,75.6 349.8,75.6 349.9,74.9 349.9,74.7 350,74.5 350,73.8 350.1,73.4 350.1,73.4 350.2,73.5 350.2,74.4 350.3,75.4 350.3,75.3 350.4,74.8 350.4,75 350.4,74.8 350.5,74 350.5,73.2 350.6,73.1 350.6,73.6 350.7,74.1 350.7,74.1 350.8,74.1 350.8,74.1 350.9,73.9 350.9,74.2 351,74.6 351,74.4 351.1,74.5 351.1,75.2 351.2,75.8 351.2,76 351.3,76.3 351.3,76.6 351.3,75.8 351.4,74.4 351.4,74.1 351.5,74.2 351.5,74.1 351.6,74.5 351.6,75.1 351.7,75.6 351.7,75.4 351.8,75 351.8,74.8 351.9,75.4 351.9,76.6 352,77.1 352,76.2 352.1,74.8 352.1,74.5 352.2,75.5 352.2,77.2 352.2,77.3 352.3,76.8 352.3,75.9 352.4,75.4 352.4,75.2 352.5,75.5 352.5,76.1 352.6,76 352.6,75.3 352.7,74.8 352.7,74.1 352.8,73.5 352.8,74.2 352.9,75.2 352.9,75.7 353,75.3 353,74.6 353,74.4 353.1,74.6 353.1,74.9 353.2,75.8 353.2,77.3 353.3,76.9 353.3,74.6 353.4,74 353.4,75.3 353.5,76.5 353.5,76.2 353.6,75.9 353.6,76.4 353.7,75.8 353.7,74.6 353.8,74.2 353.8,74.2 353.9,73.8 353.9,73.9 353.9,75.2 354,75.8 354,74.8 354.1,73.9 354.1,74 354.2,74.5 354.2,75.2 354.3,75.1 354.3,73.8 354.4,72.9 354.4,73.5 354.5,75 354.5,76.2 354.6,76.3 354.6,75.4 354.7,74.7 354.7,75 354.8,75.6 354.8,75.3 354.8,75 354.9,74.9 354.9,75 355,74.8 355,74.6 355.1,74.6 355.1,74.9 355.2,75.2 355.2,75.2 355.3,75.7 355.3,76.2 355.4,75.5 355.4,74.8 355.5,74.5 355.5,74.7 355.6,74.9 355.6,74.9 355.6,75.2 355.7,75.8 355.7,75.7 355.8,75.2 355.8,75.5 355.9,75.4 355.9,74.6 356,74.2 356,73.9 356.1,73.6 356.1,73.4 356.2,73.1 356.2,73.2 356.3,74.4 356.3,75.1 356.4,75.4 356.4,75.2 356.5,74.5 356.5,74.3 356.5,75 356.6,75.2 356.6,74.4 356.7,73.5 356.7,72.9 356.8,73.3 356.8,74.3 356.9,74.9 356.9,75.1 357,75.6 357,75.9 357.1,75.6 357.1,75.3 357.2,75.2 357.2,74.6 357.3,73.6 357.3,73.5 357.3,74.2 357.4,75.3 357.4,75.9 357.5,75.5 357.5,75.1 357.6,75.1 357.6,74.8 357.7,74.4 357.7,74.8 357.8,75.6 357.8,75.9 357.9,75.7 357.9,75.6 358,75.7 358,75.3 358.1,74.7 358.1,75.1 358.2,75.7 358.2,75.6 358.2,74.9 358.3,74.3 358.3,74.4 358.4,75.1 358.4,75.2 358.5,74.4 358.5,74.1 358.6,74.4 358.6,75 358.7,75.6 358.7,75.4 358.8,74.6 358.8,74.4 358.9,75.8 358.9,77 359,76.1 359,74.5 359.1,73.5 359.1,72.8 359.1,72.6 359.2,72.6 359.2,73 359.3,74.1 359.3,75 359.4,74.6 359.4,74.5 359.5,74.7 359.5,74.6 359.6,74.7 359.6,75.1 359.7,75.3 359.7,75.2 359.8,75.1 359.8,75.1 359.9,75.6 359.9,76.3 359.9,76.6 360,76.5 360,75.8 360.1,75 360.1,74.8 360.2,74.8 360.2,74.4 360.3,74.3 360.3,74.8 360.4,75.3 360.4,75.9 360.5,75.8 360.5,75.5 360.6,75.4 360.6,75 360.7,74.9 360.7,75.5 360.8,75.8 360.8,76.1 360.8,76.6 360.9,76.1 360.9,75.3 361,74.6 361,74.4 361.1,74.1 361.1,73.8 361.2,73.5 361.2,73.6 361.3,73.8 361.3,73.7 361.4,73.2 361.4,72.9 361.5,73.4 361.5,75.1 361.6,76.9 361.6,77.3 361.7,76.1 361.7,74.7 361.7,74.4 361.8,74.9 361.8,75.4 361.9,75.6 361.9,75.4 362,75.5 362,75.8 362.1,75.8 362.1,75.9 362.2,75.9 362.2,75.8 362.3,76 362.3,76.4 362.4,76.4 362.4,75.9 362.5,74.9 362.5,74 362.5,74.7 362.6,75.7 362.6,76.3 362.7,77 362.7,77.2 362.8,76.2 362.8,75.7 362.9,76 362.9,76 363,75.9 363,75.3 363.1,74.6 363.1,74.4 363.2,74.7 363.2,74.9 363.3,74.8 363.3,74.8 363.4,74.6 363.4,74.6 363.4,75.3 363.5,75.7 363.5,75.6 363.6,76 363.6,76.3 363.7,75.9 363.7,75.2 363.8,75.7 363.8,76 363.9,74.4 363.9,72.8 364,73.1 364,74.3 364.1,74.7 364.1,74.3 364.2,74.2 364.2,74.9 364.2,75.2 364.3,74.8 364.3,74.9 364.4,75.7 364.4,75.6 364.5,75 364.5,74.6 364.6,74.2 364.6,74 364.7,74.4 364.7,75.2 364.8,75.5 364.8,74.4 364.9,73.1 364.9,73 365,73.9 365,74.1 365.1,73.4 365.1,73.2 365.1,73.8 365.2,74.5 365.2,75 365.3,75.2 365.3,75.4 365.4,75.5 365.4,75.6 365.5,76.3 365.5,76.9 365.6,76.3 365.6,75.3 365.7,75.1 365.7,75 365.8,74.5 365.8,74.1 365.9,74.4 365.9,75.1 366,75.4 366,75.8 366,76.3 366.1,76.5 366.1,75.9 366.2,74.9 366.2,74 366.3,74.4 366.3,75 366.4,74.7 366.4,74.3 366.5,75 366.5,75.6 366.6,75.7 366.6,75.3 366.7,74.8 366.7,74.8 366.8,75.4 366.8,74.9 366.8,74.3 366.9,74.8 366.9,75.8 367,76.7 367,77.1 367.1,75.8 367.1,74.8 367.2,75.6 367.2,76.2 367.3,75.5 367.3,74.5 367.4,73.9 367.4,74 367.5,74.7 367.5,75.4 367.6,75.6 367.6,74.7 367.7,74 367.7,73.7 367.7,73.9 367.8,74.8 367.8,75.6 367.9,76.5 367.9,76.8 368,76 368,75.5 368.1,75.4 368.1,74.9 368.2,74.6 368.2,75 368.3,75.9 368.3,76.1 368.4,75 368.4,74.5 368.5,74.9 368.5,75.4 368.6,75.5 368.6,75.6 368.6,76.2 368.7,76.4 368.7,76 368.8,76 368.8,75.9 368.9,75.5 368.9,75.5 369,75.4 369,74.5 369.1,73.8 369.1,73.7 369.2,74.3 369.2,76.2 369.3,77 369.3,75.5 369.4,73.8 369.4,73.9 369.4,74.8 369.5,75.2 369.5,75.6 369.6,76.4 369.6,76.2 369.7,75.2 369.7,74.4 369.8,74.2 369.8,74.2 369.9,74.8 369.9,75.1 370,74.5 370,74.5 370.1,74.1 370.1,73.9 370.2,75 370.2,75.4 370.3,74.9 370.3,75.2 370.3,76.1 370.4,76.2 370.4,75.4 370.5,74.6 370.5,74.4 370.6,73.7 370.6,72.9 370.7,72.7 370.7,72.9 370.8,74 370.8,74.9 370.9,74.5 370.9,74.5 371,75.4 371,76.4 371.1,76.9 371.1,76.6 371.1,76.1 371.2,76.2 371.2,76.2 371.3,75.6 371.3,75 371.4,74.9 371.4,74.6 371.5,74.2 371.5,74.5 371.6,75 371.6,75.3 371.7,75 371.7,74.8 371.8,75 371.8,75.6 371.9,76 371.9,75.7 372,75 372,74.2 372,74.4 372.1,75.1 372.1,75.1 372.2,75 372.2,75.1 372.3,75.6 372.3,75.7 372.4,74.8 372.4,75 372.5,76.3 372.5,77 372.6,76.7 372.6,76.2 372.7,75.4 372.7,74.2 372.8,73.8 372.8,73.9 372.9,73.6 372.9,74 372.9,75.2 373,75.7 373,74.6 373.1,73.3 373.1,72.6 373.2,72.6 373.2,73 373.3,73.8 373.3,74.8 373.4,75 373.4,74.4 373.5,73.9 373.5,75 373.6,76.1 373.6,75.5 373.7,75 373.7,74.9 373.7,74.9 373.8,74.6 373.8,74.4 373.9,74.8 373.9,74.8 374,74.2 374,74.1 374.1,74.4 374.1,74.5 374.2,74.2 374.2,73.7 374.3,73.9 374.3,74.4 374.4,75 374.4,75.8 374.5,75.9 374.5,75.1 374.6,74.1 374.6,73.8 374.6,74.4 374.7,75 374.7,74.5 374.8,73.8 374.8,73.8 374.9,74.6 374.9,75.1 375,74.9 375,74.9 375.1,75.3 375.1,75.5 375.2,75.2 375.2,74.7 375.3,73.6 375.3,73 375.4,73.9 375.4,75.5 375.5,76.2 375.5,75.7 375.5,74.8 375.6,74.4 375.6,74.4 375.7,74.3 375.7,74 375.8,73.5 375.8,73.5 375.9,74.3 375.9,75.5 376,76.7 376,76.9 376.1,76.6 376.1,76 376.2,75 376.2,74.5 376.3,75 376.3,75.5 376.3,75.5 376.4,75.3 376.4,75.1 376.5,74.7 376.5,74.4 376.6,74.2 376.6,74.2 376.7,74.4 376.7,74 376.8,73.6 376.8,73.9 376.9,74.3 376.9,74.8 377,75.4 377,75.8 377.1,75.8 377.1,75.6 377.2,75.5 377.2,75 377.2,74.3 377.3,74.1 377.3,74 377.4,74 377.4,74.4 377.5,74.7 377.5,73.9 377.6,72.7 377.6,72.9 377.7,73.5 377.7,74.1 377.8,74.7 377.8,75.7 377.9,75.7 377.9,74.8 378,74.5 378,75 378,75.3 378.1,75.5 378.1,75.9 378.2,76.5 378.2,76.6 378.3,76.5 378.3,76.8 378.4,76.7 378.4,76.4 378.5,76 378.5,75.5 378.6,75.4 378.6,75.7 378.7,76 378.7,75.7 378.8,74.9 378.8,74.8 378.9,74.9 378.9,74.8 378.9,74.5 379,74.2 379,74 379.1,74.4 379.1,74.6 379.2,74.8 379.2,75.4 379.3,75.5 379.3,74.9 379.4,74.6 379.4,74.8 379.5,75 379.5,75.3 379.6,75.6 379.6,75.9 379.7,76.3 379.7,76.4 379.8,76.3 379.8,75.6 379.8,75 379.9,75.1 379.9,75.2 380,75 380,75.2 380.1,75.4 380.1,74.8 380.2,73.9 380.2,73.9 380.3,74.7 380.3,75.4 380.4,75.6 380.4,75.7 380.5,75.5 380.5,75.1 380.6,74.7 380.6,74.9 380.6,74.6 380.7,74.9 380.7,75.8 380.8,75.2 380.8,74 380.9,74.5 380.9,75.9 381,76.5 381,76.7 381.1,76.4 381.1,75.3 381.2,74.2 381.2,74.4 381.3,75.1 381.3,75 381.4,74.6 381.4,74.6 381.5,74.8 381.5,74.8 381.5,75.3 381.6,75.2 381.6,74.3 381.7,73.9 381.7,74.3 381.8,74.3 381.8,73.7 381.9,73.5 381.9,73.5 382,73.7 382,74 382.1,74 382.1,74 382.2,74.2 382.2,74.8 382.3,76 382.3,75.7 382.4,74.5 382.4,74.5 382.4,74.9 382.5,74.6 382.5,74.4 382.6,74.7 382.6,74.7 382.7,74.9 382.7,75.1 382.8,74.8 382.8,74.8 382.9,75.5 382.9,75.5 383,75.5 383,76.2 383.1,76.3 383.1,75.4 383.2,75 383.2,75.1 383.2,75.2 383.3,74.6 383.3,73.9 383.4,74.9 383.4,76.1 383.5,76.3 383.5,75.3 383.6,74.3 383.6,74.3 383.7,74.5 383.7,74.4 383.8,74 383.8,74.7 383.9,75.4 383.9,75.1 384,74.8 384,74.7 384.1,74.6 384.1,74.8 384.1,75.3 384.2,76.1 384.2,76 384.3,75.1 384.3,74.8 384.4,75.2 384.4,76.2 384.5,77 384.5,76.3 384.6,75.2 384.6,75.4 384.7,76.2 384.7,76.5 384.8,76.2 384.8,75.8 384.9,75.5 384.9,75.5 384.9,75.8 385,75.7 385,75.2 385.1,74.8 385.1,74.3 385.2,73.8 385.2,74.2 385.3,74.9 385.3,75.1 385.4,75.2 385.4,76.1 385.5,76.8 385.5,76.3 385.6,75.6 385.6,75.2 385.7,74.8 385.7,75.3 385.8,75.9 385.8,75.2 385.8,74.6 385.9,75.4 385.9,75.8 386,74.7 386,73.7 386.1,73.9 386.1,74.6 386.2,74.7 386.2,74.1 386.3,73.3 386.3,73 386.4,73.7 386.4,74.1 386.5,74.6 386.5,75.1 386.6,75.8 386.6,75.8 386.7,75.5 386.7,75.3 386.7,75 386.8,75.1 386.8,75.2 386.9,75.3 386.9,75.2 387,74.4 387,73.2 387.1,73 387.1,74.4 387.2,75.2 387.2,75.5 387.3,75.7 387.3,75.6 387.4,75.6 387.4,75.1 387.5,75.1 387.5,75.8 387.5,75.5 387.6,75.2 387.6,75.3 387.7,74.9 387.7,74.7 387.8,74.7 387.8,74.8 387.9,75.3 387.9,75.3 388,75.5 388,75.9 388.1,75.7 388.1,75.3 388.2,75.3 388.2,75.9 388.3,75.8 388.3,75 388.4,74.6 388.4,75 388.4,75.4 388.5,75.8 388.5,75.5 388.6,75.1 388.6,75.3 388.7,76.3 388.7,77.2 388.8,76.4 388.8,75 388.9,74.8 388.9,75.2 389,75.2 389,75.7 389.1,76.2 389.1,75.6 389.2,74.1 389.2,73.8 389.3,74.6 389.3,74.5 389.3,73.7 389.4,74.2 389.4,75.7 389.5,75.7 389.5,75.4 389.6,75.7 389.6,75.2 389.7,74.7 389.7,74.7 389.8,75.1 389.8,75.2 389.9,75.1 389.9,74.9 390,75.1 390,75.7 390.1,75.4 390.1,74.1 390.1,73.5 390.2,74.2 390.2,75.1 390.3,74.8 390.3,73.9 390.4,74.3 390.4,75.2 390.5,75.3 390.5,75.2 390.6,75.5 390.6,75.2 390.7,74.4 390.7,74.5 390.8,75.6 390.8,76.4 390.9,76.1 390.9,75.2 391,74.6 391,74.5 391,74.4 391.1,75.1 391.1,76.7 391.2,77.3 391.2,77.3 391.3,76.9 391.3,75.7 391.4,74.5 391.4,74.1 391.5,74.7 391.5,74.7 391.6,73.8 391.6,74.1 391.7,75.2 391.7,75.8 391.8,75.8 391.8,74.9 391.8,73.9 391.9,73.2 391.9,73.1 392,73.4 392,73.9 392.1,74.9 392.1,75.5 392.2,75.8 392.2,76.1 392.3,75.8 392.3,75.2 392.4,74.9 392.4,75.6 392.5,76.2 392.5,75.4 392.6,75.1 392.6,76.1 392.7,76.3 392.7,76.1 392.7,76.3 392.8,76.1 392.8,75.9 392.9,75.8 392.9,75.3 393,75.3 393,75.6 393.1,75.1 393.1,74.4 393.2,74.5 393.2,74.4 393.3,74.4 393.3,74.4 393.4,74.3 393.4,74.7 393.5,75.2 393.5,74.6 393.6,74 393.6,74.3 393.6,74.7 393.7,74.3 393.7,73.7 393.8,73.6 393.8,73.4 393.9,73.5 393.9,74.1 394,74.4 394,74.5 394.1,74.4 394.1,74.9 394.2,75.3 394.2,75.2 394.3,74.9 394.3,74.7 394.4,75.1 394.4,75.8 394.4,75.7 394.5,74.9 394.5,74.3 394.6,73.5 394.6,72.6 394.7,73 394.7,73.9 394.8,73.8 394.8,73.7 394.9,74.8 394.9,75.9 395,75.4 395,74.3 395.1,74.1 395.1,74.7 395.2,74.4 395.2,74.2 395.3,74.3 395.3,74.6 395.3,74.3 395.4,73.9 395.4,73.9 395.5,74.1 395.5,74.7 395.6,75.3 395.6,75.5 395.7,75.4 395.7,74.8 395.8,74.7 395.8,75.9 395.9,76.4 395.9,74.9 396,73.3 396,72.7 396.1,72.8 396.1,73.6 396.2,75 396.2,76.3 396.2,77.1 396.3,76.5 396.3,75.9 396.4,76.9 396.4,77.5 396.5,76.7 396.5,74.8 396.6,72.8 396.6,72.3 396.7,73.5 396.7,76.1 396.8,77 396.8,75.7 396.9,75.1 396.9,75.9 397,76.1 397,75.6 397,75.1 397.1,74.7 397.1,74.1 397.2,73.7 397.2,73.7 397.3,73.3 397.3,73.5 397.4,75 397.4,75.5 397.5,74.1 397.5,73.1 397.6,73.3 397.6,73.8 397.7,74.1 397.7,74.4 397.8,74.5 397.8,74.2 397.9,73.9 397.9,73.5 397.9,73 398,73.5 398,74.4 398.1,74.9 398.1,75 398.2,73.3 398.2,72.2 398.3,72.7 398.3,73.7 398.4,74 398.4,74.1 398.5,74.4 398.5,74.5 398.6,74.9 398.6,75.1 398.7,75 398.7,75.4 398.7,75.1 398.8,74 398.8,74.5 398.9,75.3 398.9,74.6 399,74.2 399,74.2 399.1,74.8 399.1,76.6 399.2,77.6 399.2,76.2 399.3,74.4 399.3,74.2 399.4,74.9 399.4,75 399.5,74.7 399.5,74.9 399.6,75 399.6,75 399.6,74.7 399.7,74.2 399.7,74.8 399.8,75.2 399.8,75.4 399.9,75.1 399.9,73.8 400,72.5 400,72.2 400.1,73.2 400.1,74.2 400.2,74.8 400.2,75.6 400.3,75 400.3,74 400.4,74.6 400.4,76.3 400.5,76 400.5,74.5 400.5,75.7 400.6,77.7 400.6,77.3 400.7,74.9 400.7,73 400.8,72.6 400.8,72.4 400.9,72.6 400.9,72.6 401,72.9 401,73.9 401.1,74.7 401.1,75.5 401.2,75.5 401.2,75 401.3,75.6 401.3,76 401.3,76.3 401.4,75.9 401.4,74.6 401.5,72.9 401.5,72.7 401.6,72.7 401.6,75 401.7,81 401.7,82.8 401.8,83 401.8,78.1 401.9,73.5 401.9,72.3 402,73.5 402,73.4 402.1,70.9 402.1,72.1 402.2,76 402.2,77.6 402.2,76.5 402.3,76.5 402.3,76.3 402.4,74.9 402.4,74.9 402.5,74.8 402.5,74.6 402.6,78 402.6,79.3 402.7,76.1 402.7,74.2 402.8,75 402.8,76.2 402.9,77.5 402.9,80.4 403,81.1 403,78.5 403.1,78 403.1,75.9 403.1,71.4 403.2,67 403.2,66.8 403.3,75.4 403.3,79 403.4,73.7 403.4,70.6 403.5,75.4 403.5,78.5 403.6,76.2 403.6,76.7 403.7,75.6 403.7,73.9 403.8,76.6 403.8,77 403.9,74.6 403.9,58.8 403.9,76.7 404,79.9 404,82.3 404.1,84.8 404.1,90.4 404.2,69.5 404.2,66.1 404.3,70.7 404.3,76.9 404.4,79 404.4,80.8 404.5,81.9 404.5,79.3 404.6,79.7 404.6,82.2 404.7,80.4 404.7,72 404.8,68 404.8,72.9 404.8,78.8 404.9,76.7 404.9,71.3 405,71.8 405,73.7 405.1,76.1 405.1,76.8 405.2,76.6 405.2,81.1 405.3,80.8 405.3,81.3 405.4,82.8 405.4,76.9 405.5,72.5 405.5,75.1 405.6,76.6 405.6,70.9 405.6,65.4 405.7,62.6 405.7,59.5 405.8,59.8 405.8,61.7 405.9,66 405.9,74.6 406,76.8 406,71 406.1,64.2 406.1,59.6 406.2,61.5 406.2,68 406.3,73.2 406.3,77.1 406.4,78.7 406.4,76.1 406.5,73.3 406.5,75.9 406.5,77.7 406.6,77.6 406.6,80.1 406.7,85.4 406.7,87.8 406.8,81.5 406.8,76 406.9,74.4 406.9,76.6 407,75.3 407,65.8 407.1,66.8 407.1,76.7 407.2,81.3 407.2,75.3 407.3,71.5 407.3,72 407.4,68.5 407.4,66.8 407.4,72.6 407.5,73.6 407.5,67.4 407.6,65.9 407.6,63.2 407.7,58.6 407.7,63.8 407.8,70.6 407.8,72.7 407.9,73.4 407.9,72.7 408,73.9 408,76.7 408.1,75.1 408.1,70.4 408.2,54.3 408.2,64.3 408.2,64.1 408.3,66.2 408.3,69.6 408.4,99.4 408.4,73.2 408.5,74.7 408.5,77.7 408.6,66.8 408.6,59.3 408.7,68.3 408.7,74.4 408.8,77.1 408.8,69.2 408.9,58.3 408.9,62.4 409,78.4 409,88.9 409.1,86.1 409.1,77.4 409.1,74.6 409.2,73.5 409.2,70.5 409.3,68.4 409.3,69.6 409.4,76 409.4,80 409.5,80.5 409.5,83.2 409.6,78.3 409.6,76.8 409.7,79.3 409.7,80.2 409.8,79.2 409.8,78.3 409.9,80 409.9,79.5 410,74.5 410,70.7 410,68.6 410.1,72.9 410.1,75.9 410.2,71.8 410.2,71.4 410.3,76.4 410.3,74.4 410.4,71.8 410.4,78.6 410.5,82.7 410.5,83.9 410.6,92.3 410.6,96.1 410.7,92.4 410.7,77.4 410.8,68.3 410.8,67.9 410.8,73.2 410.9,76.4 410.9,70.9 411,68.1 411,71 411.1,71.7 411.1,72.9 411.2,73.7 411.2,75.9 411.3,77 411.3,74 411.4,76 411.4,78 411.5,53 411.5,72.3 411.6,70.1 411.6,68.2 411.7,66.5 411.7,90.4 411.7,83.4 411.8,90.4 411.8,85.9 411.9,81.5 411.9,81.7 412,78.7 412,70.6 412.1,62.9 412.1,60.3 412.2,65.6 412.2,73.5 412.3,77.6 412.3,77.9 412.4,74.3 412.4,73.6 412.5,76.2 412.5,77.1 412.5,76.8 412.6,72.9 412.6,63.3 412.7,61.6 412.7,61.8 412.8,66.9 412.8,70.8 412.9,70.2 412.9,67.9 413,70.5 413,72.9 413.1,73 413.1,72.5 413.2,72.9 413.2,75 413.3,77.3 413.3,74.9 413.4,73.1 413.4,76.1 413.4,75.3 413.5,70.6 413.5,69.7 413.6,74.1 413.6,79.9 413.7,81.2 413.7,82 413.8,80.4 413.8,74.9 413.9,74.1 413.9,79.4 414,81.8 414,80 414.1,78.3 414.1,74.8 414.2,69 414.2,69.8 414.3,73.6 414.3,71.2 414.3,64.1 414.4,63.9 414.4,69.7 414.5,71.5 414.5,72.6 414.6,76.5 414.6,76 414.7,73.5 414.7,76.1 414.8,79.9 414.8,81.4 414.9,79.1 414.9,76.8 415,79.3 415,80.8 415.1,76.2 415.1,70.7 415.1,72 415.2,75 415.2,74.4 415.3,73.8 415.3,76.9 415.4,79.8 415.4,77.5 415.5,74.6 415.5,74.7 415.6,75.9 415.6,75.4 415.7,77.8 415.7,78.6 415.8,75 415.8,74 415.9,74 415.9,72.2 416,68.8 416,66.7 416,68 416.1,73.8 416.1,81.5 416.2,83.2 416.2,79.9 416.3,77.5 416.3,75.6 416.4,77.2 416.4,81.6 416.5,83.6 416.5,83 416.6,80.6 416.6,76 416.7,71.5 416.7,71.6 416.8,75.6 416.8,74.6 416.9,69.8 416.9,70 416.9,76.8 417,83.3 417,82.3 417.1,77.6 417.1,73.2 417.2,69.6 417.2,71.2 417.3,75.6 417.3,80 417.4,81.6 417.4,80.7 417.5,78.9 417.5,76.3 417.6,73.7 417.6,72.4 417.7,73.8 417.7,76.6 417.7,75.3 417.8,71.6 417.8,70.1 417.9,72.4 417.9,75 418,75.9 418,74.6 418.1,74.7 418.1,76.7 418.2,77 418.2,75.5 418.3,75.2 418.3,75.8 418.4,74 418.4,71 418.5,67.6 418.5,68.6 418.6,73 418.6,72.4 418.6,68.1 418.7,68.6 418.7,72.2 418.8,74.8 418.8,74.3 418.9,72.4 418.9,72.9 419,73.8 419,72.6 419.1,73.6 419.1,75 419.2,73.7 419.2,73.1 419.3,73.7 419.3,75.2 419.4,77.1 419.4,78.7 419.4,78.8 419.5,79.4 419.5,80.6 419.6,81.4 419.6,77.6 419.7,73 419.7,71.3 419.8,72.1 419.8,72.8 419.9,70.4 419.9,71.2 420,76.4 420,78.8 420.1,77.8 420.1,76.6 420.2,78.1 420.2,79.7 420.3,77.6 420.3,76.6 420.3,76.3 420.4,74.4 420.4,73.1 420.5,72 420.5,72.4 420.6,72.9 420.6,71.8 420.7,72.9 420.7,76.9 420.8,79.3 420.8,77.5 420.9,74.6 420.9,72.6 421,71.1 421,72 421.1,73.5 421.1,74.9 421.2,76.6 421.2,77.6 421.2,79.9 421.3,81.8 421.3,80.6 421.4,76.8 421.4,76 421.5,77.4 421.5,78.5 421.6,76.9 421.6,74.5 421.7,74.3 421.7,74 421.8,72.9 421.8,73.7 421.9,74.5 421.9,75.1 422,76.6 422,77 422,77.7 422.1,78.1 422.1,77.1 422.2,75.5 422.2,74.4 422.3,73.8 422.3,72.5 422.4,70.5 422.4,69.9 422.5,71.2 422.5,73.3 422.6,75.6 422.6,76.3 422.7,75 422.7,74.1 422.8,74.7 422.8,74.7 422.9,73.5 422.9,74.6 422.9,74.9 423,75.1 423,77.1 423.1,78.9 423.1,80 423.2,80 423.2,79.3 423.3,76.6 423.3,74.9 423.4,73.8 423.4,72.2 423.5,72.1 423.5,73.8 423.6,75.3 423.6,75.6 423.7,74.7 423.7,73.5 423.8,74 423.8,75.1 423.8,75.1 423.9,74.7 423.9,74.8 424,74.5 424,73.6 424.1,72.6 424.1,73.6 424.2,75.6 424.2,75.5 424.3,74.6 424.3,74.4 424.4,73.8 424.4,73.6 424.5,73.9 424.5,74.3 424.6,74.4 424.6,75.3 424.6,77 424.7,77.4 424.7,75.7 424.8,73.6 424.8,73.4 424.9,74.1 424.9,74.9 425,75.7 425,75.5 425.1,74.6 425.1,73.8 425.2,73.2 425.2,73.7 425.3,74.6 425.3,75.1 425.4,74.9 425.4,73.7 425.5,72.1 425.5,72.3 425.5,74.2 425.6,74.7 425.6,74.8 425.7,75.9 425.7,76.6 425.8,77.2 425.8,77.3 425.9,75.8 425.9,75 426,74.9 426,74.5 426.1,73.3 426.1,72.4 426.2,73 426.2,74 426.3,74.7 426.3,75 426.3,75.3 426.4,75.8 426.4,76.3 426.5,75.8 426.5,74.6 426.6,73.9 426.6,74.4 426.7,75.3 426.7,76.2 426.8,76.6 426.8,75.4 426.9,74.5 426.9,74 427,73.9 427,74.2 427.1,74.3 427.1,74.6 427.2,74.7 427.2,74.7 427.2,74.1 427.3,74 427.3,75 427.4,75.7 427.4,75.1 427.5,73.6 427.5,73 427.6,75.1 427.6,77.1 427.7,77.3 427.7,77 427.8,76.3 427.8,75.9 427.9,76.3 427.9,76.8 428,76.8 428,76 428.1,75 428.1,74 428.1,74.1 428.2,75.1 428.2,75.4 428.3,74.9 428.3,75.1 428.4,75.7 428.4,74.8 428.5,73.7 428.5,74 428.6,74.7 428.6,75.2 428.7,75.3 428.7,74.6 428.8,74.2 428.8,74.1 428.9,74 428.9,74.8 428.9,75.7 429,75.5 429,75.3 429.1,75.4 429.1,75.7 429.2,75.4 429.2,74.7 429.3,74.7 429.3,75.1 429.4,75.2 429.4,75.2 429.5,76 429.5,77 429.6,76.6 429.6,75.2 429.7,74 429.7,73.8 429.8,74 429.8,73.6 429.8,73.8 429.9,74.5 429.9,75.1 430,74.8 430,74.2 430.1,74.3 430.1,74.2 430.2,73.4 430.2,73.8 430.3,75.1 430.3,75.2 430.4,74 430.4,72.5 430.5,72.5 430.5,73.3 430.6,73.8 430.6,73.5 430.6,73.6 430.7,74.2 430.7,74.8 430.8,76.2 430.8,77.4 430.9,76.8 430.9,75.4 431,75.4 431,76.8 431.1,77.3 431.1,77.1 431.2,77 431.2,75.7 431.3,75.3 431.3,76.1 431.4,75.3 431.4,74.2 431.5,73.7 431.5,74 431.5,74.5 431.6,74.3 431.6,74 431.7,74.3 431.7,75.1 431.8,75.5 431.8,74.8 431.9,73.9 431.9,73.4 432,74 432,74.8 432.1,74.9 432.1,74.6 432.2,74.7 432.2,74.4 432.3,73.2 432.3,73.1 432.4,74.5 432.4,75 432.4,74.5 432.5,73.7 432.5,73 432.6,73.4 432.6,74.4 432.7,75.1 432.7,74.7 432.8,73.9 432.8,73.9 432.9,73.7 432.9,72.9 433,73.4 433,74.6 433.1,75.1 433.1,74.7 433.2,74.3 433.2,74.7 433.2,75.1 433.3,74.8 433.3,74.2 433.4,73.9 433.4,73.9 433.5,74.1 433.5,74.4 433.6,74.1 433.6,74.2 433.7,74.4 433.7,73.1 433.8,72.6 433.8,73.2 433.9,74.6 433.9,75.2 434,75 434,74.7 434.1,74.5 434.1,74.8 434.1,75 434.2,74.6 434.2,74.9 434.3,75.4 434.3,75.4 434.4,75.3 434.4,74.9 434.5,74.8 434.5,74.8 434.6,74.8 434.6,75.1 434.7,75.2 434.7,75.1 434.8,74.3 434.8,74.2 434.9,74.9 434.9,75.1 435,74.7 435,74.6 435,74.4 435.1,74.3 435.1,74.6 435.2,74.7 435.2,74.1 435.3,73.8 435.3,74.2 435.4,74.4 435.4,74.2 435.5,73.6 435.5,73.8 435.6,74.7 435.6,75 435.7,74.5 435.7,73.7 435.8,73.4 435.8,73.8 435.8,74.1 435.9,74.4 435.9,75.4 436,75.8 436,75.4 436.1,74.9 436.1,74.6 436.2,74.3 436.2,74 436.3,74.5 436.3,74.4 436.4,73.8 436.4,73.7 436.5,74 436.5,74 436.6,73.9 436.6,74.1 436.7,74.6 436.7,75.2 436.7,75.8 436.8,76.4 436.8,76.4 436.9,75.6 436.9,74.5 437,74.5 437,75 437.1,75.5 437.1,75.6 437.2,75.6 437.2,75.4 437.3,75.3 437.3,75.2 437.4,72.6 437.4,70.6 437.5,73.2 437.5,76.4 437.5,78.3 437.6,78.8 437.6,78.4 437.7,76.9 437.7,78.9 437.8,83.3 437.8,84.7 437.9,82.5 437.9,67.2 438,74.1 438,82 438.1,79.7 438.1,79.6 438.2,79.6 438.2,79.8 438.3,76.8 438.3,76.5 438.4,77.9 438.4,76.9 438.4,76.7 438.5,75.6 438.5,75.3 438.6,77.5 438.6,78.7 438.7,78 438.7,76.9 438.8,76.1 438.8,75.8 438.9,75.8 438.9,75.7 439,75.6 439,75.5 439.1,75.1 439.1,75.1 439.2,74.9 439.2,74.5 439.3,74.8 439.3,75 439.3,75 439.4,74.6 439.4,73.9 439.5,73.5 439.5,73.5 439.6,73.5 439.6,73 439.7,73.9 439.7,75.3 439.8,74.9 439.8,73.1 439.9,72.7 439.9,73.5 440,73.6 440,73.6 440.1,74.3 440.1,74.9 440.1,74.7 440.2,74.4 440.2,74.9 440.3,75.5 440.3,75.6 440.4,76 440.4,75.5 440.5,74.3 440.5,74.1 440.6,74.3 440.6,74.2 440.7,74.2 440.7,75.2 440.8,76.3 440.8,77 440.9,77.4 440.9,76.8 441,74.5 441,73.8 441,74.6 441.1,74.8 441.1,74.5 441.2,74.5 441.2,75.4 441.3,76 441.3,75.6 441.4,75 441.4,74.7 441.5,74.8 441.5,74.9 441.6,75.4 441.6,75.7 441.7,75.8 441.7,75.4 441.8,74.7 441.8,75.1 441.9,75.7 441.9,75.6 441.9,75.3 442,74.4 442,73.7 442.1,74.1 442.1,74.9 442.2,74.5 442.2,73.6 442.3,73.5 442.3,73.2 442.4,73.6 442.4,74.4 442.5,73.9 442.5,73.3 442.6,72.9 442.6,72.9 442.7,73.5 442.7,74.1 442.7,74.4 442.8,74.7 442.8,75.3 442.9,75.4 442.9,74.6 443,74.3 443,74.3 443.1,74.3 443.1,74.5 443.2,74.8 443.2,75.5 443.3,76.1 443.3,75.5 443.4,74.9 443.4,75.4 443.5,74.9 443.5,73.1 443.6,72.3 443.6,72.8 443.6,73.7 443.7,74 443.7,73.9 443.8,74.2 443.8,75.3 443.9,76.4 443.9,76.6 444,75.8 444,74.6 444.1,74.6 444.1,74.9 444.2,74.7 444.2,74.5 444.3,74.8 444.3,75.6 444.4,75.5 444.4,74.7 444.4,75.1 444.5,75.8 444.5,76 444.6,75.6 444.6,74.9 444.7,74.8 444.7,75.3 444.8,75.3 444.8,74.9 444.9,74.8 444.9,75.2 445,75.1 445,75 445.1,75.6 445.1,75.4 445.2,75.3 445.2,75.5 445.3,74.9 445.3,74.2 445.3,74.5 445.4,75 445.4,74.9 445.5,74 445.5,73.2 445.6,73.1 445.6,73.2 445.7,74.1 445.7,76.3 445.8,77.7 445.8,77.5 445.9,76.7 445.9,76.6 446,75.8 446,75.3 446.1,76.1 446.1,76.2 446.2,75.4 446.2,75.3 446.2,75.6 446.3,75 446.3,74.2 446.4,74.2 446.4,74 446.5,73.7 446.5,74.1 446.6,74.8 446.6,74.9 446.7,74.6 446.7,74.5 446.8,74.3 446.8,74 446.9,74.2 446.9,74.9 447,74.9 447,74.3 447,73.7 447.1,73.4 447.1,73.2 447.2,72.7 447.2,72.4 447.3,73.8 447.3,75.9 447.4,76.3 447.4,75.4 447.5,74.9 447.5,74.7 447.6,74.1 447.6,73.3 447.7,73.8 447.7,75 447.8,75.5 447.8,75.8 447.9,75.9 447.9,75.1 447.9,74.3 448,73 448,71.8 448.1,71.8 448.1,73.2 448.2,75 448.2,75.5 448.3,74.7 448.3,74.7 448.4,75.1 448.4,74.9 448.5,73.7 448.5,72.9 448.6,74 448.6,74.9 448.7,74.9 448.7,75.5 448.8,77 448.8,77.7 448.8,76.9 448.9,76.4 448.9,76.7 449,77.1 449,76.9 449.1,76.4 449.1,76.5 449.2,77 449.2,76.4 449.3,75.5 449.3,75.9 449.4,76.6 449.4,76.2 449.5,75.2 449.5,75.2 449.6,75.9 449.6,75.5 449.6,75.1 449.7,74.7 449.7,74.9 449.8,76.1 449.8,76.4 449.9,75.4 449.9,75 450,76.3 450,77.4 450.1,76.5 450.1,74.6 450.2,73.9 450.2,75 450.3,75.9 450.3,75.9 450.4,76.3 450.4,76.9 450.5,76.3 450.5,75.3 450.5,75.1 450.6,76 450.6,77.2 450.7,77.3 450.7,75.7 450.8,72.7 450.8,71.1 450.9,71.3 450.9,72 451,74.5 451,77 451.1,77.8 451.1,76.8 451.2,75.9 451.2,75 451.3,74.8 451.3,76.5 451.3,77.8 451.4,76.9 451.4,75.5 451.5,74.4 451.5,73.9 451.6,74.5 451.6,73 451.7,69.8 451.7,70.4 451.8,74.7 451.8,77.9 451.9,76.9 451.9,72.9 452,68.4 452,67.2 452.1,71.2 452.1,74.7 452.2,75.9 452.2,76.5 452.2,77.8 452.3,77 452.3,73.3 452.4,70.9 452.4,71.1 452.5,73.3 452.5,74.2 452.6,76.8 452.6,82.2 452.7,81.5 452.7,76.7 452.8,78 452.8,83 452.9,83.9 452.9,81.5 453,76.2 453,71.2 453.1,69.5 453.1,68.8 453.1,72.3 453.2,73.1 453.2,67.7 453.3,63.8 453.3,61.5 453.4,61.4 453.4,63.4 453.5,70.9 453.5,79.6 453.6,80.2 453.6,74.9 453.7,71.8 453.7,71.6 453.8,70.9 453.8,65.7 453.9,62.1 453.9,64.3 453.9,66.8 454,67.6 454,68.7 454.1,72.1 454.1,75 454.2,75.3 454.2,77.5 454.3,79.8 454.3,77.1 454.4,74.4 454.4,74.5 454.5,63.3 454.5,72.5 454.6,72.5 454.6,74.3 454.7,72.2 454.7,69.4 454.8,72.1 454.8,78.6 454.8,81.1 454.9,78.8 454.9,73.6 455,69.3 455,73.9 455.1,77.5 455.1,76.9 455.2,81.7 455.2,86.6 455.3,84.6 455.3,83.1 455.4,84.6 455.4,86.2 455.5,83.9 455.5,79.9 455.6,79.8 455.6,82.6 455.7,83.4 455.7,81.2 455.7,78.5 455.8,79.1 455.8,79.8 455.9,77.6 455.9,77 456,77.5 456,78.1 456.1,76.7 456.1,75.3 456.2,73.9 456.2,72.1 456.3,71.9 456.3,73.7 456.4,77.6 456.4,82.1 456.5,86.2 456.5,90.2 456.5,90.2 456.6,83.8 456.6,74.4 456.7,67.6 456.7,66.2 456.8,68.7 456.8,71.7 456.9,70.4 456.9,67.9 457,69 457,72.2 457.1,76.7 457.1,82.1 457.2,85.2 457.2,83.6 457.3,79 457.3,77.9 457.4,78.2 457.4,76.5 457.4,73.4 457.5,66.9 457.5,63.9 457.6,70.3 457.6,78.6 457.7,77.7 457.7,70.3 457.8,71.5 457.8,76.2 457.9,77.9 457.9,81.5 458,81.7 458,79.7 458.1,79.2 458.1,75.2 458.2,69 458.2,70.5 458.2,74.1 458.3,78.5 458.3,82.8 458.4,80.4 458.4,74.4 458.5,71.8 458.5,73.4 458.6,74.6 458.6,75.6 458.7,79.2 458.7,82.7 458.8,80.4 458.8,80.4 458.9,86 458.9,88.8 459,83.6 459,71.7 459.1,67.4 459.1,73.4 459.1,76.7 459.2,74.6 459.2,74.7 459.3,76.9 459.3,77.3 459.4,75.3 459.4,71.2 459.5,66.9 459.5,64.7 459.6,66.3 459.6,69.3 459.7,71.1 459.7,72.3 459.8,71.8 459.8,68.4 459.9,67.9 459.9,70.2 460,72.5 460,72 460,72.8 460.1,75.9 460.1,77.9 460.2,75.1 460.2,69.4 460.3,68.5 460.3,71.9 460.4,75.7 460.4,80.3 460.5,84.3 460.5,84.2 460.6,80.9 460.6,78.7 460.7,77.1 460.7,74 460.8,73.1 460.8,76.3 460.8,79.5 460.9,78.8 460.9,78.7 461,81.2 461,79.5 461.1,72.9 461.1,71 461.2,71.3 461.2,69 461.3,68.6 461.3,70.6 461.4,71.2 461.4,69.7 461.5,69.3 461.5,72.2 461.6,62.4 461.6,78.6 461.7,82.4 461.7,80.4 461.7,77.3 461.8,94.3 461.8,75.1 461.9,74 461.9,73.9 462,74.5 462,74.5 462.1,74.3 462.1,74.5 462.2,75.8 462.2,78.4 462.3,77.1 462.3,76.6 462.4,78.8 462.4,76.3 462.5,72.5 462.5,76.2 462.6,84.6 462.6,87.5 462.6,80.4 462.7,72.9 462.7,67.4 462.8,65.4 462.8,69.8 462.9,75 462.9,77.4 463,76.4 463,73.5 463.1,71.1 463.1,72.9 463.2,76.7 463.2,75.5 463.3,72.8 463.3,72.9 463.4,69 463.4,64.9 463.4,66.3 463.5,67.6 463.5,67.3 463.6,69.9 463.6,73.1 463.7,72.2 463.7,68 463.8,65.5 463.8,67.1 463.9,73 463.9,77.2 464,77.3 464,76.3 464.1,74.9 464.1,72.5 464.2,75.8 464.2,86.3 464.3,89.7 464.3,87.1 464.3,75.4 464.4,72.6 464.4,74.7 464.5,76.5 464.5,80.4 464.6,88.3 464.6,89.6 464.7,87.4 464.7,78 464.8,71.8 464.8,72.3 464.9,76.7 464.9,78.5 465,75.7 465,75 465.1,75.9 465.1,77.1 465.1,79.4 465.2,81.4 465.2,82.6 465.3,81.7 465.3,64 465.4,74.2 465.4,75 465.5,77.1 465.5,74.4 465.6,87.8 465.6,77.8 465.7,81.5 465.7,83.7 465.8,81.5 465.8,75.6 465.9,72.3 465.9,70.4 466,71.3 466,75.3 466,77 466.1,74.6 466.1,71.4 466.2,71.4 466.2,71.6 466.3,70.7 466.3,69 466.4,68.2 466.4,70.1 466.5,68.4 466.5,69.1 466.6,73.3 466.6,72.5 466.7,71 466.7,73.3 466.8,77.3 466.8,78.7 466.9,78.7 466.9,75.3 466.9,72.4 467,78.2 467,86.2 467.1,86.8 467.1,81.2 467.2,76.7 467.2,78.5 467.3,78.8 467.3,74 467.4,72.2 467.4,73.9 467.5,74.1 467.5,72.9 467.6,77.2 467.6,83 467.7,83.5 467.7,80.2 467.7,76.3 467.8,74.8 467.8,75.9 467.9,73.9 467.9,70.4 468,72.4 468,75.8 468.1,77.2 468.1,77 468.2,74.3 468.2,72.9 468.3,73.6 468.3,73.6 468.4,74.3 468.4,75.6 468.5,77.5 468.5,79 468.6,78.7 468.6,76.8 468.6,76.2 468.7,77.1 468.7,78.5 468.8,78.6 468.8,76.8 468.9,74.9 468.9,74.7 469,75 469,73.5 469.1,71.8 469.1,71.5 469.2,71.2 469.2,71.7 469.3,72.7 469.3,73.8 469.4,74.5 469.4,75.5 469.5,76 469.5,77.1 469.5,78.4 469.6,77.2 469.6,74.4 469.7,72.9 469.7,73.2 469.8,75.7 469.8,77.9 469.9,77.1 469.9,76.3 470,76.4 470,76.5 470.1,76.7 470.1,75.7 470.2,74.1 470.2,74.3 470.3,75.3 470.3,75.1 470.3,74 470.4,74 470.4,75.2 470.5,76.6 470.5,77.2 470.6,77.8 470.6,77.3 470.7,75.7 470.7,75.4 470.8,76 470.8,75.5 470.9,73.4 470.9,71.9 471,72.5 471,74.1 471.1,75.4 471.1,75.1 471.2,73.9 471.2,73.4 471.2,74.6 471.3,75.8 471.3,75.7 471.4,74.6 471.4,73.3 471.5,73.2 471.5,73.8 471.6,74 471.6,74.4 471.7,75.7 471.7,77 471.8,76.7 471.8,74.7 471.9,73.6 471.9,73.7 472,73.6 472,73.7 472,74.3 472.1,74.7 472.1,75.6 472.2,76.5 472.2,76.5 472.3,75.8 472.3,75.2 472.4,75.3 472.4,76.1 472.5,76.1 472.5,74.5 472.6,73.2 472.6,73.5 472.7,74.4 472.7,75.5 472.8,76.4 472.8,75.5 472.9,74.2 472.9,74.4 472.9,74.9 473,74.6 473,74.5 473.1,75.2 473.1,76.1 473.2,75.9 473.2,74.9 473.3,74.3 473.3,74.3 473.4,74.7 473.4,74.8 473.5,74.4 473.5,74.9 473.6,76 473.6,76.1 473.7,75.3 473.7,74.6 473.8,74.7 473.8,75.5 473.8,76.1 473.9,76.8 473.9,76.8 474,76.3 474,76 474.1,76.1 474.1,76 474.2,76 474.2,76.6 474.3,77.5 474.3,77.3 474.4,75.9 474.4,74.1 474.5,72.5 474.5,72 474.6,73.7 474.6,75.1 474.6,74.9 474.7,74.5 474.7,75.1 474.8,75.8 474.8,75.8 474.9,76 474.9,76.7 475,76.3 475,75.9 475.1,76.3 475.1,75.8 475.2,74.6 475.2,73.8 475.3,74.1 475.3,74.7 475.4,74.4 475.4,73.8 475.5,72.7 475.5,72.7 475.5,73.6 475.6,74.2 475.6,74.8 475.7,75 475.7,74.2 475.8,73.7 475.8,73.3 475.9,72.9 475.9,72.8 476,73.4 476,74.3 476.1,74.6 476.1,74.7 476.2,74.8 476.2,74.2 476.3,73.2 476.3,72.9 476.4,73.4 476.4,74.7 476.4,75.4 476.5,75.6 476.5,75.6 476.6,75.5 476.6,75.2 476.7,74.5 476.7,73.6 476.8,74 476.8,75.2 476.9,75.2 476.9,74.5 477,74.5 477,74.8 477.1,75.2 477.1,75.7 477.2,75.4 477.2,75.2 477.2,76.2 477.3,75.7 477.3,74.7 477.4,75.1 477.4,76.1 477.5,77 477.5,77.6 477.6,77 477.6,76 477.7,75.5 477.7,75.3 477.8,75.2 477.8,75.6 477.9,76.2 477.9,76.1 478,75.7 478,76 478.1,76.7 478.1,76.6 478.1,75 478.2,73.2 478.2,72.4 478.3,72.5 478.3,73 478.4,73.8 478.4,74.7 478.5,75.2 478.5,75.5 478.6,75.4 478.6,75.4 478.7,75.1 478.7,74 478.8,73.4 478.8,73.5 478.9,73.4 478.9,73.6 478.9,74.9 479,76.1 479,75.9 479.1,75 479.1,75.1 479.2,75.2 479.2,74.4 479.3,73.6 479.3,73.1 479.4,73.6 479.4,74.6 479.5,75.3 479.5,75.8 479.6,75.9 479.6,75.2 479.7,74.3 479.7,74.1 479.8,74.6 479.8,74.7 479.8,74.7 479.9,74.5 479.9,74.2 480,74.2 480,74.2 480.1,74.9 480.1,75.4 480.2,75.5 480.2,76.2 480.3,76.4 480.3,75.7 480.4,75.4 480.4,76.1 480.5,76.9 480.5,76.4 480.6,75.2 480.6,74.8 480.7,75.2 480.7,74.9 480.7,74.4 480.8,74.3 480.8,74.4 480.9,74.1 480.9,73.9 481,73.6 481,74.1 481.1,75.2 481.1,75.2 481.2,74.6 481.2,74.7 481.3,75.5 481.3,75.4 481.4,74.7 481.4,74.9 481.5,75.7 481.5,75.8 481.5,75.5 481.6,75.3 481.6,74.8 481.7,74.5 481.7,75.5 481.8,76 481.8,74.6 481.9,73.2 481.9,73.1 482,74.2 482,74.9 482.1,74.3 482.1,73.8 482.2,74.1 482.2,74.7 482.3,75 482.3,74.5 482.4,73.8 482.4,74.3 482.4,75.3 482.5,75.6 482.5,75.1 482.6,74.6 482.6,74.3 482.7,73.8 482.7,73.9 482.8,74.4 482.8,74.6 482.9,74.4 482.9,74 483,74.1 483,74.7 483.1,74.9 483.1,74.4 483.2,74.4 483.2,75.1 483.3,75.3 483.3,76 483.3,76.4 483.4,75.5 483.4,74.8 483.5,75.2 483.5,75.3 483.6,75.1 483.6,75.7 483.7,76 483.7,75.3 483.8,74.5 483.8,74.5 483.9,75.1 483.9,75.3 484,75.3 484,75.6 484.1,76 484.1,75.7 484.1,74.8 484.2,73.6 484.2,72.8 484.3,73.6 484.3,74.9 484.4,75 484.4,74.5 484.5,74.3 484.5,74.2 484.6,74.4 484.6,74.3 484.7,73.6 484.7,73.4 484.8,74.3 484.8,74.7 484.9,74 484.9,73.4 485,73.3 485,73.7 485,74.4 485.1,74.6 485.1,74.1 485.2,73.4 485.2,73 485.3,73.8 485.3,75.1 485.4,75.4 485.4,76 485.5,76.4 485.5,75.7 485.6,75.3 485.6,75.8 485.7,76.4 485.7,76.4 485.8,76.2 485.8,76.2 485.8,75.6 485.9,75.1 485.9,74.9 486,74.9 486,75.4 486.1,76.1 486.1,76 486.2,75 486.2,74.3 486.3,74.6 486.3,75.2 486.4,75.8 486.4,76.6 486.5,76.5 486.5,75.8 486.6,75.4 486.6,75.5 486.7,75.8 486.7,76.1 486.7,75.9 486.8,76 486.8,76.7 486.9,76.5 486.9,75.2 487,73.8 487,73.2 487.1,73 487.1,73.5 487.2,74.7 487.2,75.4 487.3,75.3 487.3,74.3 487.4,73.8 487.4,73.8 487.5,74 487.5,74.2 487.6,74.3 487.6,74.2 487.6,74.4 487.7,75.4 487.7,75.8 487.8,74.9 487.8,74.2 487.9,74.3 487.9,74.5 488,74.6 488,75.4 488.1,76.7 488.1,77.3 488.2,77.1 488.2,76.2 488.3,75.2 488.3,74 488.4,73.6 488.4,74.5 488.4,75.4 488.5,76.5 488.5,77.3 488.6,76.9 488.6,76 488.7,75.6 488.7,76 488.8,75.9 488.8,75.3 488.9,75.3 488.9,75.9 489,75.9 489,75.1 489.1,74.1 489.1,74.1 489.2,74.7 489.2,74.5 489.3,74.3 489.3,74.2 489.3,74.4 489.4,74.9 489.4,75.3 489.5,75.9 489.5,76 489.6,75 489.6,73.1 489.7,72.2 489.7,72.8 489.8,73.8 489.8,73.7 489.9,72.1 489.9,71.4 490,72.5 490,74.3 490.1,75.1 490.1,74.3 490.2,73.8 490.2,74.6 490.2,73.4 490.3,70.6 490.3,69.4 490.4,69.7 490.4,71.1 490.5,71.5 490.5,71.1 490.6,72 490.6,74.1 490.7,76.2 490.7,76.2 490.8,74.6 490.8,74.9 490.9,75.4 490.9,75.2 491,76.3 491,77 491,76.3 491.1,75.2 491.1,74.4 491.2,73.9 491.2,73.8 491.3,74.3 491.3,74.7 491.4,75 491.4,75.1 491.5,74.5 491.5,73.7 491.6,73.2 491.6,73.9 491.7,74.7 491.7,74.6 491.8,74.3 491.8,74.6 491.9,75.7 491.9,76.2 491.9,75.7 492,75.4 492,75.8 492.1,76.8 492.1,76.6 492.2,74.9 492.2,73.4 492.3,73.3 492.3,74.3 492.4,75.1 492.4,75.8 492.5,75.6 492.5,74.4 492.6,74.2 492.6,74.8 492.7,74.8 492.7,74.3 492.7,74.4 492.8,74.8 492.8,74.8 492.9,75 492.9,75.3 493,75.2 493,74.8 493.1,75.2 493.1,74.9 493.2,73.5 493.2,73.1 493.3,73.8 493.3,74.6 493.4,75.3 493.4,75.8 493.5,75.4 493.5,74.9 493.6,74.8 493.6,74.9 493.6,75.3 493.7,75.7 493.7,76.1 493.8,76 493.8,76.1 493.9,76.3 493.9,75.8 494,75.3 494,75 494.1,74.7 494.1,74.5 494.2,74.1 494.2,74.1 494.3,74.4 494.3,74.6 494.4,75 494.4,74.9 494.5,74.5 494.5,75.1 494.5,76.3 494.6,76.8 494.6,76.2 494.7,75.3 494.7,74.9 494.8,75.1 494.8,75.5 494.9,76.2 494.9,76.4 495,75.6 495,74.4 495.1,74.1 495.1,74.4 495.2,74.8 495.2,75.2 495.3,75.3 495.3,75.5 495.3,75.7 495.4,76.1 495.4,76.2 495.5,75.3 495.5,74.5 495.6,74.5 495.6,74.5 495.7,74.4 495.7,74.4 495.8,74.4 495.8,74.8 495.9,75.5 495.9,75.3 496,75 496,75.2 496.1,75.3 496.1,75.3 496.2,75.2 496.2,75.3 496.2,74.9 496.3,74.1 496.3,74.1 496.4,75 496.4,75.4 496.5,75.7 496.5,76 496.6,74.6 496.6,73.9 496.7,74.4 496.7,74.1 496.8,74.2 496.8,75.4 496.9,76.8 496.9,76.5 497,75.8 497,75.7 497.1,75.9 497.1,76.8 497.1,77.6 497.2,76.9 497.2,76 497.3,75.6 497.3,75.4 497.4,74.9 497.4,74 497.5,73.6 497.5,73.9 497.6,74 497.6,75 497.7,76.2 497.7,76.3 497.8,75.7 497.8,75.4 497.9,74.8 497.9,74.7 497.9,75.4 498,75.5 498,74.8 498.1,74.3 498.1,74.2 498.2,74.8 498.2,75.1 498.3,75.3 498.3,75.3 498.4,74.9 498.4,75.3 498.5,76.4 498.5,76.8 498.6,76.7 498.6,76 498.7,74.4 498.7,74.2 498.8,75.1 498.8,74.6 498.8,73.6 498.9,74.5 498.9,76.8 499,78.1 499,77 499.1,75 499.1,74.9 499.2,75.5 499.2,75.3 499.3,75.5 499.3,76 499.4,75.9 499.4,74.9 499.5,74.3 499.5,75 499.6,74.7 499.6,73.3 499.6,73.1 499.7,73.5 499.7,72.8 499.8,73.4 499.8,74.6 499.9,74.7 499.9,75.3 500,75.9 500,76.8 500.1,76.8 500.1,75.1 500.2,74.3 500.2,74.6 500.3,74.8 500.3,75.3 500.4,75.9 500.4,75.9 500.5,75.1 500.5,74.9 500.5,75.6 500.6,76.2 500.6,76.8 500.7,77.3 500.7,76.9 500.8,75.8 500.8,75 500.9,75.6 500.9,75.9 501,74.7 501,73.6 501.1,73.4 501.1,72.7 501.2,71.9 501.2,72.5 501.3,72 501.3,71.5 501.4,72.9 501.4,73.7 501.4,74.9 501.5,76.7 501.5,76.5 501.6,75.9 501.6,76.5 501.7,75.6 501.7,74.1 501.8,74.4 501.8,75.4 501.9,76.6 501.9,77.3 502,77 502,75.6 502.1,73.8 502.1,71.9 502.2,70.4 502.2,70.8 502.2,70.8 502.3,70.5 502.3,73.4 502.4,76.2 502.4,76.8 502.5,76.2 502.5,73.3 502.6,71 502.6,72.2 502.7,74.6 502.7,74.6 502.8,72.7 502.8,72.3 502.9,74.3 502.9,74.5 503,72.6 503,72.3 503.1,73 503.1,74.3 503.1,75.9 503.2,74.8 503.2,73 503.3,73.9 503.3,74.6 503.4,72.9 503.4,69.5 503.5,68.3 503.5,71.7 503.6,71.4 503.6,68.9 503.7,71.1 503.7,75.1 503.8,76.4 503.8,72.5 503.9,69.5 503.9,70.5 504,72.8 504,73.4 504,72.8 504.1,71.8 504.1,72.3 504.2,74.9 504.2,79.7 504.3,84.3 504.3,85.9 504.4,80 504.4,73.3 504.5,69.8 504.5,69 504.6,74.6 504.6,79.5 504.7,80.8 504.7,80.8 504.8,82 504.8,83 504.8,77.7 504.9,70.4 504.9,70.3 505,74 505,77.7 505.1,76.7 505.1,74.4 505.2,75.7 505.2,77.5 505.3,76.4 505.3,72.9 505.4,69.4 505.4,72.3 505.5,82.1 505.5,86.5 505.6,81.2 505.6,74.2 505.7,69.6 505.7,69.1 505.7,69.2 505.8,67.5 505.8,72.8 505.9,78 505.9,74.3 506,72.4 506,76.8 506.1,81.7 506.1,80 506.2,75.9 506.2,72.7 506.3,67.8 506.3,62.6 506.4,60.8 506.4,63.6 506.5,66.2 506.5,65.4 506.5,66.8 506.6,70.9 506.6,78.7 506.7,87.7 506.7,89.3 506.8,83.2 506.8,78.6 506.9,75.4 506.9,76.6 507,84.4 507,86 507.1,78.8 507.1,74.8 507.2,77.6 507.2,82.6 507.3,84.8 507.3,82.1 507.4,77.9 507.4,72.7 507.4,70.9 507.5,73.2 507.5,72.8 507.6,70 507.6,65.8 507.7,62.9 507.7,64.2 507.8,66.4 507.8,69.7 507.9,73.9 507.9,73.7 508,68.8 508,62.6 508.1,58.7 508.1,62.5 508.2,73.9 508.2,82.4 508.3,86.8 508.3,86.9 508.3,81.8 508.4,73 508.4,71.8 508.5,75.7 508.5,72.5 508.6,65.1 508.6,61.3 508.7,64.7 508.7,70.4 508.8,72.3 508.8,71.4 508.9,73.8 508.9,79 509,79.5 509,76 509.1,76.4 509.1,75.4 509.1,71.6 509.2,70.2 509.2,71.8 509.3,75.8 509.3,78.9 509.4,85.3 509.4,89.3 509.5,85.8 509.5,81.6 509.6,82.3 509.6,80.9 509.7,76.6 509.7,77.3 509.8,77.2 509.8,75.7 509.9,75.1 509.9,72.5 510,70.6 510,70.5 510,72 510.1,78 510.1,81.5 510.2,80.3 510.2,79 510.3,76.5 510.3,76 510.4,75.4 510.4,73.9 510.5,80.2 510.5,89.1 510.6,84.8 510.6,76.2 510.7,74.9 510.7,79.7 510.8,81.6 510.8,77.7 510.9,79.5 510.9,88.9 510.9,92.7 511,93 511,93.1 511.1,85.1 511.1,77.8 511.2,57.5 511.2,79.6 511.3,78 511.3,72.5 511.4,66.4 511.4,95.6 511.5,66.1 511.5,67 511.6,69.7 511.6,71 511.7,69.9 511.7,71.3 511.7,66.3 511.8,59.2 511.8,64.6 511.9,74.2 511.9,77.3 512,79.1 512,82.3 512.1,84.5 512.1,83.8 512.2,82.3 512.2,76 512.3,68.4 512.3,62.7 512.4,66 512.4,80.8 512.5,89.1 512.5,86.9 512.6,79.8 512.6,74.5 512.6,77.2 512.7,83 512.7,85.9 512.8,84.4 512.8,81.9 512.9,82.5 512.9,83.5 513,78.3 513,72.9 513.1,74.8 513.1,77 513.2,71.5 513.2,68.6 513.3,75.3 513.3,85.2 513.4,87.8 513.4,85.1 513.4,85.6 513.5,82.3 513.5,71.7 513.6,64.7 513.6,62.7 513.7,62.5 513.7,68 513.8,73.4 513.8,70.9 513.9,68.6 513.9,65.6 514,62 514,61.6 514.1,63.7 514.1,70.8 514.2,78.2 514.2,81.7 514.3,84 514.3,85.5 514.3,82 514.4,80.6 514.4,87.3 514.5,93.9 514.5,92.6 514.6,82 514.6,75.5 514.7,72.5 514.7,74.9 514.8,79.6 514.8,84.1 514.9,82.9 514.9,76.1 515,67.2 515,62.5 515.1,68.8 515.1,78.4 515.2,79.6 515.2,78.2 515.2,75.9 515.3,69.4 515.3,66.2 515.4,67.8 515.4,66 515.5,66.8 515.5,68.8 515.6,63.1 515.6,60 515.7,62.2 515.7,63.1 515.8,64.7 515.8,66.3 515.9,70.6 515.9,75.8 516,76.5 516,77.7 516,81.4 516.1,84.6 516.1,84.8 516.2,81.5 516.2,79.1 516.3,81.6 516.3,81.6 516.4,81.5 516.4,80.6 516.5,76.8 516.5,74.2 516.6,71.8 516.6,72.2 516.7,73.3 516.7,72.5 516.8,70.3 516.8,70.5 516.9,73.2 516.9,71.4 516.9,68.5 517,68.8 517,69.5 517.1,74.7 517.1,81.7 517.2,85.9 517.2,86.9 517.3,85.5 517.3,80.1 517.4,75.1 517.4,75.9 517.5,79.8 517.5,82.5 517.6,83.9 517.6,84.2 517.7,78.8 517.7,71.3 517.8,72.1 517.8,74.7 517.8,71.4 517.9,70.1 517.9,74.6 518,79.3 518,82.4 518.1,78.7 518.1,67.3 518.2,63.3 518.2,72.5 518.3,77 518.3,71.2 518.4,67.6 518.4,67.7 518.5,69 518.5,71.9 518.6,72.6 518.6,72.3 518.6,73.4 518.7,73.9 518.7,74 518.8,74.3 518.8,77.5 518.9,81.3 518.9,81.7 519,82.6 519,83.4 519.1,81.1 519.1,76.8 519.2,75.4 519.2,73.9 519.3,70.7 519.3,71.8 519.4,77.4 519.4,80.4 519.5,77.5 519.5,75.8 519.5,75.3 519.6,74.7 519.6,75.5 519.7,74.3 519.7,71.8 519.8,72.2 519.8,72.3 519.9,68.7 519.9,65.8 520,66.7 520,70.4 520.1,71.6 520.1,70.6 520.2,71.5 520.2,73.7 520.3,75.6 520.3,77.3 520.3,78.3 520.4,77.5 520.4,76.2 520.5,77.7 520.5,78.5 520.6,74 520.6,69.3 520.7,72.1 520.7,78.7 520.8,78.7 520.8,74.8 520.9,73.7 520.9,74.6 521,75.4 521,76.2 521.1,76 521.1,75.1 521.2,75.8 521.2,73.8 521.2,69.8 521.3,69.9 521.3,73 521.4,75.6 521.4,77.2 521.5,77 521.5,74.6 521.6,72.6 521.6,73.1 521.7,73 521.7,72.6 521.8,73.3 521.8,73.7 521.9,73.2 521.9,73.6 522,75.5 522,78.5 522.1,79.2 522.1,75.4 522.1,73.6 522.2,75 522.2,75.6 522.3,75.7 522.3,75.5 522.4,73.3 522.4,71.3 522.5,71.2 522.5,73.9 522.6,76.8 522.6,76.1 522.7,73.9 522.7,71.4 522.8,70.3 522.8,70.9 522.9,70.3 522.9,69.4 522.9,72.6 523,75.4 523,75.3 523.1,74.2 523.1,71 523.2,69.2 523.2,69.4 523.3,70.9 523.3,74.1 523.4,77 523.4,76.6 523.5,74.9 523.5,74.5 523.6,75.1 523.6,76.4 523.7,76.3 523.7,74.5 523.8,73.6 523.8,75.3 523.8,77.5 523.9,76.8 523.9,74.7 524,76.1 524,77.5 524.1,76.3 524.1,74.9 524.2,74.7 524.2,74.4 524.3,75.1 524.3,76.3 524.4,76.8 524.4,76.8 524.5,75.6 524.5,74.5 524.6,75.5 524.6,76.7 524.7,76.5 524.7,75.9 524.7,77 524.8,79.5 524.8,79.1 524.9,76.3 524.9,75 525,74.8 525,74.9 525.1,75.3 525.1,75.4 525.2,74.6 525.2,73.8 525.3,74.1 525.3,75.4 525.4,76.3 525.4,76.5 525.5,77 525.5,76.6 525.5,75.2 525.6,73.8 525.6,72.7 525.7,72.7 525.7,73.8 525.8,74.9 525.8,75 525.9,74 525.9,72.8 526,73.8 526,75.6 526.1,75.6 526.1,74.8 526.2,74.9 526.2,74.7 526.3,74 526.3,74.1 526.4,74.8 526.4,74.6 526.4,73.8 526.5,72.9 526.5,72.8 526.6,73.8 526.6,74.5 526.7,75 526.7,76 526.8,76.4 526.8,77.1 526.9,78.1 526.9,78.5 527,77.2 527,74.8 527.1,73.5 527.1,73.5 527.2,73.7 527.2,74.7 527.2,75.8 527.3,75.7 527.3,74.2 527.4,73.1 527.4,73.6 527.5,75.2 527.5,76.2 527.6,75.7 527.6,74.2 527.7,73.4 527.7,73.9 527.8,74.6 527.8,75.1 527.9,74.8 527.9,74.3 528,74.4 528,74.3 528.1,75 528.1,76.5 528.1,77.2 528.2,76.8 528.2,76.2 528.3,75.7 528.3,74.4 528.4,73.6 528.4,74.9 528.5,77.2 528.5,77.2 528.6,74.8 528.6,73.6 528.7,74.1 528.7,74.7 528.8,75.1 528.8,75.1 528.9,74.6 528.9,74.3 529,73.4 529,72.9 529,73.2 529.1,73.7 529.1,74.5 529.2,74.3 529.2,73.2 529.3,72.7 529.3,73.8 529.4,74.6 529.4,74.7 529.5,75.3 529.5,75.4 529.6,74.8 529.6,74.1 529.7,73.9 529.7,74.3 529.8,75.3 529.8,76.6 529.8,76.3 529.9,74.6 529.9,74.7 530,75.6 530,75.4 530.1,74.9 530.1,74.6 530.2,73.8 530.2,74.2 530.3,74.5 530.3,74.1 530.4,74.5 530.4,75 530.5,74.3 530.5,73.8 530.6,74.3 530.6,75.5 530.7,75.9 530.7,75.5 530.7,76.2 530.8,77 530.8,76.2 530.9,75.2 530.9,74.7 531,74.5 531,75 531.1,76 531.1,76.7 531.2,76.4 531.2,75.3 531.3,74.5 531.3,74.3 531.4,75 531.4,76.1 531.5,76 531.5,75.8 531.6,75.9 531.6,75.8 531.6,75.5 531.7,75.1 531.7,74.9 531.8,75 531.8,74.8 531.9,74 531.9,73.3 532,73.4 532,74.4 532.1,75.2 532.1,75.4 532.2,75.8 532.2,75.9 532.3,75.6 532.3,75.4 532.4,75.8 532.4,76 532.4,76 532.5,75.8 532.5,75.2 532.6,74.2 532.6,74 532.7,74.6 532.7,75.3 532.8,75.1 532.8,74.5 532.9,74 532.9,74.5 533,75.3 533,75.3 533.1,75.1 533.1,74.7 533.2,75 533.2,75.4 533.3,75 533.3,75.2 533.3,75.9 533.4,75.9 533.4,75.7 533.5,76 533.5,75.4 533.6,74.4 533.6,74.6 533.7,74.5 533.7,74 533.8,73.9 533.8,75 533.9,76.4 533.9,75.9 534,74.7 534,74.3 534.1,73.9 534.1,74.5 534.1,75.1 534.2,74.2 534.2,73.7 534.3,74.4 534.3,75.1 534.4,75.6 534.4,75.6 534.5,74.9 534.5,74.4 534.6,74.1 534.6,73.7 534.7,73.7 534.7,75.4 534.8,76.3 534.8,75.5 534.9,75.2 534.9,75.2 535,74.7 535,75.4 535,75.8 535.1,74.8 535.1,73.6 535.2,73.7 535.2,75.5 535.3,76.4 535.3,76 535.4,75.6 535.4,75.7 535.5,76.2 535.5,76.5 535.6,75.6 535.6,74.5 535.7,74.4 535.7,74.7 535.8,74.6 535.8,74.7 535.9,75.2 535.9,75.1 535.9,73.9 536,73 536,74 536.1,75.3 536.1,75.5 536.2,75.2 536.2,75.4 536.3,76.4 536.3,76.1 536.4,74.8 536.4,74.3 536.5,74.5 536.5,74.9 536.6,75.5 536.6,75.8 536.7,76.2 536.7,76.2 536.7,75.6 536.8,75.5 536.8,75.3 536.9,75.1 536.9,75 537,74 537,73.2 537.1,73.6 537.1,73.9 537.2,74.7 537.2,76 537.3,76.5 537.3,76.5 537.4,76.5 537.4,75.7 537.5,74.7 537.5,74.2 537.6,73.8 537.6,73.8 537.6,73.9 537.7,73.7 537.7,73.8 537.8,74.2 537.8,74.4 537.9,74.5 537.9,74.6 538,74.2 538,74.3 538.1,75.3 538.1,76.1 538.2,75.9 538.2,75.1 538.3,74.2 538.3,73.2 538.4,72.6 538.4,72.8 538.5,74.1 538.5,75.3 538.5,75.5 538.6,74.7 538.6,74.5 538.7,74.9 538.7,75.4 538.8,76.2 538.8,76.8 538.9,75.9 538.9,75.1 539,75.3 539,75.6 539.1,75 539.1,73.8 539.2,73 539.2,73.1 539.3,74 539.3,75.2 539.3,76.1 539.4,76.4 539.4,76.1 539.5,75.1 539.5,73.8 539.6,73.4 539.6,73.7 539.7,74 539.7,74.4 539.8,75.5 539.8,76.2 539.9,75.8 539.9,75.8 540,76.5 540,77.1 540.1,77.1 540.1,75.9 540.2,74.7 540.2,74.4 540.2,74.2 540.3,74.7 540.3,75.9 540.4,76 540.4,75.1 540.5,75 540.5,75.7 540.6,75.4 540.6,74.7 540.7,75 540.7,75.7 540.8,76.5 540.8,76.1 540.9,75.6 540.9,76.3 541,77 541,76.9 541,76.6 541.1,76.3 541.1,75.3 541.2,74.1 541.2,73.7 541.3,73.8 541.3,73.6 541.4,73.9 541.4,74.3 541.5,73.8 541.5,73 541.6,72.9 541.6,73.6 541.7,74.1 541.7,74.2 541.8,74.3 541.8,74.4 541.9,73.9 541.9,73.6" fill="none" stroke="#1414b4" stroke-width="0.45" stroke-opacity="0.8"/>
<rect x="305.3" y="10.5" width="236.55" height="128.9" fill="none" stroke="#474747" stroke-width="1.25"/>
<g stroke="#3a3a3a" stroke-width="0.9"><line x1="305.6" y1="23.39" x2="307.90" y2="23.39"/><line x1="305.6" y1="49.17" x2="307.90" y2="49.17"/><line x1="305.6" y1="74.95" x2="307.90" y2="74.95"/><line x1="305.6" y1="100.73" x2="307.90" y2="100.73"/><line x1="305.6" y1="126.51" x2="307.90" y2="126.51"/><line x1="352.86" y1="139.4" x2="352.86" y2="137.10"/><line x1="400.12" y1="139.4" x2="400.12" y2="137.10"/><line x1="447.38" y1="139.4" x2="447.38" y2="137.10"/><line x1="494.64" y1="139.4" x2="494.64" y2="137.10"/></g>
<g class="tk" text-anchor="end"><text x="303.2" y="25.84">400</text><text x="303.2" y="51.62">200</text><text x="303.2" y="77.40">0</text><text x="303.2" y="103.18">-200</text><text x="303.2" y="128.96">-400</text></g>
<g class="tk" text-anchor="middle"><text x="304.2" y="148.2">0</text><text x="350.2" y="148.2">1</text><text x="395.7" y="148.2">2</text><text x="441.2" y="148.2">3</text><text x="486.9" y="148.2">4</text><text x="531.9" y="148.2">5</text></g>
<text class="sr" x="406" y="152.5" font-size="9.7">Time[s]</text>
<text class="sr" font-size="10.2" transform="translate(284.1,113.1) rotate(-90)">Amplitude [mV]</text>

<g stroke="#b4b4b4" stroke-width="0.8">
<line x1="50.1" y1="172.5" x2="59.6" y2="172.5"/><line x1="50.1" y1="197.3" x2="59.6" y2="197.3"/>
<line x1="50.1" y1="222.3" x2="59.6" y2="222.3"/><line x1="50.1" y1="245.6" x2="59.6" y2="245.6"/>
<line x1="50.1" y1="270.6" x2="59.6" y2="270.6"/><line x1="50.1" y1="296.4" x2="59.6" y2="296.4"/>
<line x1="50.1" y1="320.5" x2="59.6" y2="320.5"/>
</g>
<g stroke="#b8b8b8" stroke-width="1">
<line x1="150.1" y1="334" x2="150.1" y2="344.5"/><line x1="253.7" y1="334" x2="253.7" y2="344.5"/>
<line x1="358.4" y1="334" x2="358.4" y2="344.5"/><line x1="462.1" y1="334" x2="462.1" y2="344.5"/>
</g>
<rect x="50.1" y="165.9" width="465.3" height="180.95" fill="none" stroke="#969696" stroke-width="1.6"/>
<clipPath id="pc"><rect x="50.9" y="166.7" width="463.7" height="179.35"/></clipPath>
<g clip-path="url(#pc)">
<polyline points="50.3,308 60.1,318.4 70.5,307.8 80.8,317.6 91.5,343.9 101.5,320.5 111.7,223.1 122.1,250.5 132.5,309.7 142.8,304.1 153.2,180.4 163.5,236.1 173.9,304.1 184.2,322.1 194.6,340.2 204.9,346 215.3,315.5 225.6,307.6 235.9,320.8 246.4,341.8 256.7,337.5 267.1,343.3 277.6,334.5 287.8,340 298.2,336.7 308.5,337.3 318.7,334 329.1,344.3 339.5,334.7 349.7,338.8 359.9,339.6 370.5,332.5 380.9,343.1 391.1,339.4 401.3,334.9 411.8,336.1 422.4,341.1 432.7,336.1 443,341.7 453.3,338 474.1,336.1 484.4,336.3 494.5,339.5" fill="none" stroke="#aeb4f2" stroke-width="0.75"/>
<g fill="#0000c8"><circle cx="50.3" cy="308" r="1.75"/><circle cx="60.1" cy="318.4" r="1.75"/><circle cx="70.5" cy="307.8" r="1.75"/><circle cx="80.8" cy="317.6" r="1.75"/><circle cx="91.5" cy="343.9" r="1.75"/><circle cx="101.5" cy="320.5" r="1.75"/><circle cx="111.7" cy="223.1" r="1.75"/><circle cx="122.1" cy="250.5" r="1.75"/><circle cx="132.5" cy="309.7" r="1.75"/><circle cx="142.8" cy="304.1" r="1.75"/><circle cx="153.2" cy="180.4" r="1.75"/><circle cx="163.5" cy="236.1" r="1.75"/><circle cx="173.9" cy="304.1" r="1.75"/><circle cx="184.2" cy="322.1" r="1.75"/><circle cx="194.6" cy="340.2" r="1.75"/><circle cx="204.9" cy="346" r="1.75"/><circle cx="215.3" cy="315.5" r="1.75"/><circle cx="225.6" cy="307.6" r="1.75"/><circle cx="235.9" cy="320.8" r="1.75"/><circle cx="246.4" cy="341.8" r="1.75"/><circle cx="256.7" cy="337.5" r="1.75"/><circle cx="267.1" cy="343.3" r="1.75"/><circle cx="277.6" cy="334.5" r="1.75"/><circle cx="287.8" cy="340" r="1.75"/><circle cx="298.2" cy="336.7" r="1.75"/><circle cx="308.5" cy="337.3" r="1.75"/><circle cx="318.7" cy="334" r="1.75"/><circle cx="329.1" cy="344.3" r="1.75"/><circle cx="339.5" cy="334.7" r="1.75"/><circle cx="349.7" cy="338.8" r="1.75"/><circle cx="359.9" cy="339.6" r="1.75"/><circle cx="370.5" cy="332.5" r="1.75"/><circle cx="380.9" cy="343.1" r="1.75"/><circle cx="391.1" cy="339.4" r="1.75"/><circle cx="401.3" cy="334.9" r="1.75"/><circle cx="411.8" cy="336.1" r="1.75"/><circle cx="422.4" cy="341.1" r="1.75"/><circle cx="432.7" cy="336.1" r="1.75"/><circle cx="443" cy="341.7" r="1.75"/><circle cx="453.3" cy="338" r="1.75"/><circle cx="474.1" cy="336.1" r="1.75"/><circle cx="484.4" cy="336.3" r="1.75"/><circle cx="494.5" cy="339.5" r="1.75"/></g>
</g>
<g fill="none" stroke-width="1.15" stroke-dasharray="2.5 1.9">
<rect x="46.3" y="299.3" width="40.4" height="20.7" stroke="#6485c8"/>
<rect x="119.1" y="289.5" width="33.7" height="27" stroke="#6485c8"/>
<rect x="199.1" y="297.2" width="46.4" height="49.6" stroke="#6485c8"/>
<rect x="70.5" y="324.2" width="43" height="22.6" stroke="#50cf88"/>
<rect x="97.9" y="212.5" width="32.5" height="44.6" stroke="#ff6060"/>
<rect x="140.7" y="172.2" width="32.6" height="76.1" stroke="#ff6060"/>
<rect x="260.2" y="324.4" width="238" height="22.4" stroke="#f2a06c"/>
</g>
<g class="lb"><text x="66.8" y="296.6" fill="#4a6ab8" stroke="#4a6ab8">Walk</text><text x="130.5" y="330.9" fill="#4a6ab8" stroke="#4a6ab8">Walk</text><text x="208.9" y="292.5" fill="#4a6ab8" stroke="#4a6ab8">Walk</text><text x="117.3" y="342.9" fill="#2ec27a" stroke="#2ec27a">Rest</text><text x="113.7" y="207.4" fill="#ff3b3b" stroke="#ff3b3b">Run</text><text x="365.7" y="315.9" fill="#e5843e" stroke="#e5843e">Sleep</text></g>
<g class="tk2" text-anchor="end">
<text x="45.3" y="178.8">1.0</text><text x="45.3" y="203.3">0.9</text><text x="45.3" y="227.8">0.7</text>
<text x="45.3" y="252.2">0.6</text><text x="45.3" y="276.7">0.4</text><text x="45.3" y="301.2">0.3</text>
<text x="45.3" y="325.6">0.1</text><text x="45.3" y="350.1">0.0</text>
</g>
<g class="tk2" text-anchor="middle">
<text x="49.85" y="359.9">0</text><text x="150.45" y="359.85">5</text><text x="254.3" y="358.8">10</text>
<text x="358.85" y="358.9">15</text><text x="462.4" y="359.9">20</text>
</g>
<text class="sr2" x="253.6" y="371.3" font-size="12.7">Time [hr]</text>
<text class="sr2" font-size="12.7" transform="translate(21.0,315.3) rotate(-90)">EMG Activity [a.u.]</text>
</svg>
</body></html>
